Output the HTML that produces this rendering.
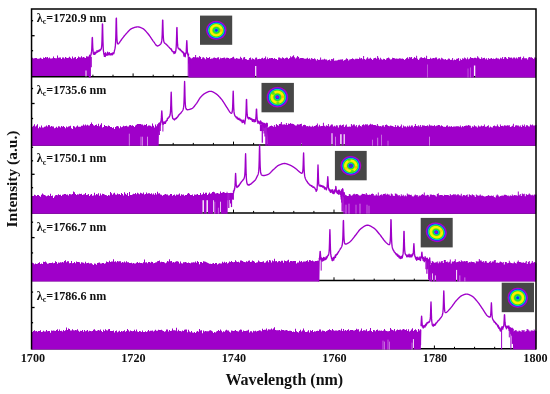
<!DOCTYPE html>
<html><head><meta charset="utf-8"><title>Spectra</title>
<style>html,body{margin:0;padding:0;background:#fff;}body{width:550px;height:394px;position:relative;overflow:hidden;font-family:"Liberation Serif",serif;}</style>
</head><body>
<svg width="550" height="394" viewBox="0 0 550 394" style="position:absolute;left:0;top:0">
<defs>
<radialGradient id="beamA" cx="0.5" cy="0.5" r="0.5"><stop offset="0" stop-color="#0828ff"/><stop offset="0.1" stop-color="#0838ff"/><stop offset="0.17" stop-color="#00c8b0"/><stop offset="0.24" stop-color="#20e030"/><stop offset="0.32" stop-color="#30e020"/><stop offset="0.41" stop-color="#d8f000"/><stop offset="0.47" stop-color="#fff000"/><stop offset="0.59" stop-color="#f4f000"/><stop offset="0.67" stop-color="#40e010"/><stop offset="0.75" stop-color="#00d0c8"/><stop offset="0.82" stop-color="#1838ff"/><stop offset="0.9" stop-color="#b000d0"/><stop offset="0.97" stop-color="#a800b8"/><stop offset="1.0" stop-color="#7a2a80"/></radialGradient>
<radialGradient id="beamB" cx="0.5" cy="0.5" r="0.5"><stop offset="0" stop-color="#d000a0"/><stop offset="0.07" stop-color="#c000c0"/><stop offset="0.15" stop-color="#2030ff"/><stop offset="0.22" stop-color="#00c8c0"/><stop offset="0.27" stop-color="#20e030"/><stop offset="0.32" stop-color="#30e020"/><stop offset="0.41" stop-color="#d8f000"/><stop offset="0.47" stop-color="#fff000"/><stop offset="0.59" stop-color="#f4f000"/><stop offset="0.67" stop-color="#40e010"/><stop offset="0.75" stop-color="#00d0c8"/><stop offset="0.82" stop-color="#1838ff"/><stop offset="0.9" stop-color="#b000d0"/><stop offset="0.97" stop-color="#a800b8"/><stop offset="1.0" stop-color="#7a2a80"/></radialGradient>
<radialGradient id="beamC" cx="0.5" cy="0.5" r="0.5"><stop offset="0" stop-color="#505060"/><stop offset="0.08" stop-color="#6a30a8"/><stop offset="0.19" stop-color="#2c34ff"/><stop offset="0.25" stop-color="#00c8c0"/><stop offset="0.29" stop-color="#20e030"/><stop offset="0.32" stop-color="#30e020"/><stop offset="0.41" stop-color="#d8f000"/><stop offset="0.47" stop-color="#fff000"/><stop offset="0.59" stop-color="#f4f000"/><stop offset="0.67" stop-color="#40e010"/><stop offset="0.75" stop-color="#00d0c8"/><stop offset="0.82" stop-color="#1838ff"/><stop offset="0.9" stop-color="#b000d0"/><stop offset="0.97" stop-color="#a800b8"/><stop offset="1.0" stop-color="#7a2a80"/></radialGradient>
<filter id="soft" x="-20%" y="-20%" width="140%" height="140%"><feGaussianBlur stdDeviation="0.35"/></filter>
</defs>
<rect width="550" height="394" fill="#fff"/>
<line x1="31.55" y1="76.7" x2="536.0" y2="76.7" stroke="#000" stroke-width="1.5"/>
<line x1="31.55" y1="144.9" x2="536.0" y2="144.9" stroke="#000" stroke-width="1.5"/>
<line x1="31.55" y1="212.9" x2="536.0" y2="212.9" stroke="#000" stroke-width="1.5"/>
<line x1="31.55" y1="280.6" x2="536.0" y2="280.6" stroke="#000" stroke-width="1.5"/>
<line x1="31.55" y1="348.8" x2="536.0" y2="348.8" stroke="#000" stroke-width="1.5"/>
<line x1="32.6" y1="76.7" x2="32.6" y2="73.4" stroke="#000" stroke-width="1"/>
<line x1="52.7" y1="76.7" x2="52.7" y2="74.7" stroke="#000" stroke-width="1"/>
<line x1="72.8" y1="76.7" x2="72.8" y2="74.7" stroke="#000" stroke-width="1"/>
<line x1="92.9" y1="76.7" x2="92.9" y2="74.7" stroke="#000" stroke-width="1"/>
<line x1="113.0" y1="76.7" x2="113.0" y2="74.7" stroke="#000" stroke-width="1"/>
<line x1="133.1" y1="76.7" x2="133.1" y2="73.4" stroke="#000" stroke-width="1"/>
<line x1="153.2" y1="76.7" x2="153.2" y2="74.7" stroke="#000" stroke-width="1"/>
<line x1="173.2" y1="76.7" x2="173.2" y2="74.7" stroke="#000" stroke-width="1"/>
<line x1="193.3" y1="76.7" x2="193.3" y2="74.7" stroke="#000" stroke-width="1"/>
<line x1="213.4" y1="76.7" x2="213.4" y2="74.7" stroke="#000" stroke-width="1"/>
<line x1="233.5" y1="76.7" x2="233.5" y2="73.4" stroke="#000" stroke-width="1"/>
<line x1="253.6" y1="76.7" x2="253.6" y2="74.7" stroke="#000" stroke-width="1"/>
<line x1="273.7" y1="76.7" x2="273.7" y2="74.7" stroke="#000" stroke-width="1"/>
<line x1="293.8" y1="76.7" x2="293.8" y2="74.7" stroke="#000" stroke-width="1"/>
<line x1="313.9" y1="76.7" x2="313.9" y2="74.7" stroke="#000" stroke-width="1"/>
<line x1="334.0" y1="76.7" x2="334.0" y2="73.4" stroke="#000" stroke-width="1"/>
<line x1="354.1" y1="76.7" x2="354.1" y2="74.7" stroke="#000" stroke-width="1"/>
<line x1="374.2" y1="76.7" x2="374.2" y2="74.7" stroke="#000" stroke-width="1"/>
<line x1="394.3" y1="76.7" x2="394.3" y2="74.7" stroke="#000" stroke-width="1"/>
<line x1="414.3" y1="76.7" x2="414.3" y2="74.7" stroke="#000" stroke-width="1"/>
<line x1="434.4" y1="76.7" x2="434.4" y2="73.4" stroke="#000" stroke-width="1"/>
<line x1="454.5" y1="76.7" x2="454.5" y2="74.7" stroke="#000" stroke-width="1"/>
<line x1="474.6" y1="76.7" x2="474.6" y2="74.7" stroke="#000" stroke-width="1"/>
<line x1="494.7" y1="76.7" x2="494.7" y2="74.7" stroke="#000" stroke-width="1"/>
<line x1="514.8" y1="76.7" x2="514.8" y2="74.7" stroke="#000" stroke-width="1"/>
<line x1="534.9" y1="76.7" x2="534.9" y2="73.4" stroke="#000" stroke-width="1"/>
<line x1="32.6" y1="144.9" x2="32.6" y2="141.6" stroke="#000" stroke-width="1"/>
<line x1="52.7" y1="144.9" x2="52.7" y2="142.9" stroke="#000" stroke-width="1"/>
<line x1="72.8" y1="144.9" x2="72.8" y2="142.9" stroke="#000" stroke-width="1"/>
<line x1="92.9" y1="144.9" x2="92.9" y2="142.9" stroke="#000" stroke-width="1"/>
<line x1="113.0" y1="144.9" x2="113.0" y2="142.9" stroke="#000" stroke-width="1"/>
<line x1="133.1" y1="144.9" x2="133.1" y2="141.6" stroke="#000" stroke-width="1"/>
<line x1="153.2" y1="144.9" x2="153.2" y2="142.9" stroke="#000" stroke-width="1"/>
<line x1="173.2" y1="144.9" x2="173.2" y2="142.9" stroke="#000" stroke-width="1"/>
<line x1="193.3" y1="144.9" x2="193.3" y2="142.9" stroke="#000" stroke-width="1"/>
<line x1="213.4" y1="144.9" x2="213.4" y2="142.9" stroke="#000" stroke-width="1"/>
<line x1="233.5" y1="144.9" x2="233.5" y2="141.6" stroke="#000" stroke-width="1"/>
<line x1="253.6" y1="144.9" x2="253.6" y2="142.9" stroke="#000" stroke-width="1"/>
<line x1="273.7" y1="144.9" x2="273.7" y2="142.9" stroke="#000" stroke-width="1"/>
<line x1="293.8" y1="144.9" x2="293.8" y2="142.9" stroke="#000" stroke-width="1"/>
<line x1="313.9" y1="144.9" x2="313.9" y2="142.9" stroke="#000" stroke-width="1"/>
<line x1="334.0" y1="144.9" x2="334.0" y2="141.6" stroke="#000" stroke-width="1"/>
<line x1="354.1" y1="144.9" x2="354.1" y2="142.9" stroke="#000" stroke-width="1"/>
<line x1="374.2" y1="144.9" x2="374.2" y2="142.9" stroke="#000" stroke-width="1"/>
<line x1="394.3" y1="144.9" x2="394.3" y2="142.9" stroke="#000" stroke-width="1"/>
<line x1="414.3" y1="144.9" x2="414.3" y2="142.9" stroke="#000" stroke-width="1"/>
<line x1="434.4" y1="144.9" x2="434.4" y2="141.6" stroke="#000" stroke-width="1"/>
<line x1="454.5" y1="144.9" x2="454.5" y2="142.9" stroke="#000" stroke-width="1"/>
<line x1="474.6" y1="144.9" x2="474.6" y2="142.9" stroke="#000" stroke-width="1"/>
<line x1="494.7" y1="144.9" x2="494.7" y2="142.9" stroke="#000" stroke-width="1"/>
<line x1="514.8" y1="144.9" x2="514.8" y2="142.9" stroke="#000" stroke-width="1"/>
<line x1="534.9" y1="144.9" x2="534.9" y2="141.6" stroke="#000" stroke-width="1"/>
<line x1="32.6" y1="212.9" x2="32.6" y2="209.6" stroke="#000" stroke-width="1"/>
<line x1="52.7" y1="212.9" x2="52.7" y2="210.9" stroke="#000" stroke-width="1"/>
<line x1="72.8" y1="212.9" x2="72.8" y2="210.9" stroke="#000" stroke-width="1"/>
<line x1="92.9" y1="212.9" x2="92.9" y2="210.9" stroke="#000" stroke-width="1"/>
<line x1="113.0" y1="212.9" x2="113.0" y2="210.9" stroke="#000" stroke-width="1"/>
<line x1="133.1" y1="212.9" x2="133.1" y2="209.6" stroke="#000" stroke-width="1"/>
<line x1="153.2" y1="212.9" x2="153.2" y2="210.9" stroke="#000" stroke-width="1"/>
<line x1="173.2" y1="212.9" x2="173.2" y2="210.9" stroke="#000" stroke-width="1"/>
<line x1="193.3" y1="212.9" x2="193.3" y2="210.9" stroke="#000" stroke-width="1"/>
<line x1="213.4" y1="212.9" x2="213.4" y2="210.9" stroke="#000" stroke-width="1"/>
<line x1="233.5" y1="212.9" x2="233.5" y2="209.6" stroke="#000" stroke-width="1"/>
<line x1="253.6" y1="212.9" x2="253.6" y2="210.9" stroke="#000" stroke-width="1"/>
<line x1="273.7" y1="212.9" x2="273.7" y2="210.9" stroke="#000" stroke-width="1"/>
<line x1="293.8" y1="212.9" x2="293.8" y2="210.9" stroke="#000" stroke-width="1"/>
<line x1="313.9" y1="212.9" x2="313.9" y2="210.9" stroke="#000" stroke-width="1"/>
<line x1="334.0" y1="212.9" x2="334.0" y2="209.6" stroke="#000" stroke-width="1"/>
<line x1="354.1" y1="212.9" x2="354.1" y2="210.9" stroke="#000" stroke-width="1"/>
<line x1="374.2" y1="212.9" x2="374.2" y2="210.9" stroke="#000" stroke-width="1"/>
<line x1="394.3" y1="212.9" x2="394.3" y2="210.9" stroke="#000" stroke-width="1"/>
<line x1="414.3" y1="212.9" x2="414.3" y2="210.9" stroke="#000" stroke-width="1"/>
<line x1="434.4" y1="212.9" x2="434.4" y2="209.6" stroke="#000" stroke-width="1"/>
<line x1="454.5" y1="212.9" x2="454.5" y2="210.9" stroke="#000" stroke-width="1"/>
<line x1="474.6" y1="212.9" x2="474.6" y2="210.9" stroke="#000" stroke-width="1"/>
<line x1="494.7" y1="212.9" x2="494.7" y2="210.9" stroke="#000" stroke-width="1"/>
<line x1="514.8" y1="212.9" x2="514.8" y2="210.9" stroke="#000" stroke-width="1"/>
<line x1="534.9" y1="212.9" x2="534.9" y2="209.6" stroke="#000" stroke-width="1"/>
<line x1="32.6" y1="280.6" x2="32.6" y2="277.3" stroke="#000" stroke-width="1"/>
<line x1="52.7" y1="280.6" x2="52.7" y2="278.6" stroke="#000" stroke-width="1"/>
<line x1="72.8" y1="280.6" x2="72.8" y2="278.6" stroke="#000" stroke-width="1"/>
<line x1="92.9" y1="280.6" x2="92.9" y2="278.6" stroke="#000" stroke-width="1"/>
<line x1="113.0" y1="280.6" x2="113.0" y2="278.6" stroke="#000" stroke-width="1"/>
<line x1="133.1" y1="280.6" x2="133.1" y2="277.3" stroke="#000" stroke-width="1"/>
<line x1="153.2" y1="280.6" x2="153.2" y2="278.6" stroke="#000" stroke-width="1"/>
<line x1="173.2" y1="280.6" x2="173.2" y2="278.6" stroke="#000" stroke-width="1"/>
<line x1="193.3" y1="280.6" x2="193.3" y2="278.6" stroke="#000" stroke-width="1"/>
<line x1="213.4" y1="280.6" x2="213.4" y2="278.6" stroke="#000" stroke-width="1"/>
<line x1="233.5" y1="280.6" x2="233.5" y2="277.3" stroke="#000" stroke-width="1"/>
<line x1="253.6" y1="280.6" x2="253.6" y2="278.6" stroke="#000" stroke-width="1"/>
<line x1="273.7" y1="280.6" x2="273.7" y2="278.6" stroke="#000" stroke-width="1"/>
<line x1="293.8" y1="280.6" x2="293.8" y2="278.6" stroke="#000" stroke-width="1"/>
<line x1="313.9" y1="280.6" x2="313.9" y2="278.6" stroke="#000" stroke-width="1"/>
<line x1="334.0" y1="280.6" x2="334.0" y2="277.3" stroke="#000" stroke-width="1"/>
<line x1="354.1" y1="280.6" x2="354.1" y2="278.6" stroke="#000" stroke-width="1"/>
<line x1="374.2" y1="280.6" x2="374.2" y2="278.6" stroke="#000" stroke-width="1"/>
<line x1="394.3" y1="280.6" x2="394.3" y2="278.6" stroke="#000" stroke-width="1"/>
<line x1="414.3" y1="280.6" x2="414.3" y2="278.6" stroke="#000" stroke-width="1"/>
<line x1="434.4" y1="280.6" x2="434.4" y2="277.3" stroke="#000" stroke-width="1"/>
<line x1="454.5" y1="280.6" x2="454.5" y2="278.6" stroke="#000" stroke-width="1"/>
<line x1="474.6" y1="280.6" x2="474.6" y2="278.6" stroke="#000" stroke-width="1"/>
<line x1="494.7" y1="280.6" x2="494.7" y2="278.6" stroke="#000" stroke-width="1"/>
<line x1="514.8" y1="280.6" x2="514.8" y2="278.6" stroke="#000" stroke-width="1"/>
<line x1="534.9" y1="280.6" x2="534.9" y2="277.3" stroke="#000" stroke-width="1"/>
<line x1="32.6" y1="348.8" x2="32.6" y2="345.5" stroke="#000" stroke-width="1"/>
<line x1="52.7" y1="348.8" x2="52.7" y2="346.8" stroke="#000" stroke-width="1"/>
<line x1="72.8" y1="348.8" x2="72.8" y2="346.8" stroke="#000" stroke-width="1"/>
<line x1="92.9" y1="348.8" x2="92.9" y2="346.8" stroke="#000" stroke-width="1"/>
<line x1="113.0" y1="348.8" x2="113.0" y2="346.8" stroke="#000" stroke-width="1"/>
<line x1="133.1" y1="348.8" x2="133.1" y2="345.5" stroke="#000" stroke-width="1"/>
<line x1="153.2" y1="348.8" x2="153.2" y2="346.8" stroke="#000" stroke-width="1"/>
<line x1="173.2" y1="348.8" x2="173.2" y2="346.8" stroke="#000" stroke-width="1"/>
<line x1="193.3" y1="348.8" x2="193.3" y2="346.8" stroke="#000" stroke-width="1"/>
<line x1="213.4" y1="348.8" x2="213.4" y2="346.8" stroke="#000" stroke-width="1"/>
<line x1="233.5" y1="348.8" x2="233.5" y2="345.5" stroke="#000" stroke-width="1"/>
<line x1="253.6" y1="348.8" x2="253.6" y2="346.8" stroke="#000" stroke-width="1"/>
<line x1="273.7" y1="348.8" x2="273.7" y2="346.8" stroke="#000" stroke-width="1"/>
<line x1="293.8" y1="348.8" x2="293.8" y2="346.8" stroke="#000" stroke-width="1"/>
<line x1="313.9" y1="348.8" x2="313.9" y2="346.8" stroke="#000" stroke-width="1"/>
<line x1="334.0" y1="348.8" x2="334.0" y2="345.5" stroke="#000" stroke-width="1"/>
<line x1="354.1" y1="348.8" x2="354.1" y2="346.8" stroke="#000" stroke-width="1"/>
<line x1="374.2" y1="348.8" x2="374.2" y2="346.8" stroke="#000" stroke-width="1"/>
<line x1="394.3" y1="348.8" x2="394.3" y2="346.8" stroke="#000" stroke-width="1"/>
<line x1="414.3" y1="348.8" x2="414.3" y2="346.8" stroke="#000" stroke-width="1"/>
<line x1="434.4" y1="348.8" x2="434.4" y2="345.5" stroke="#000" stroke-width="1"/>
<line x1="454.5" y1="348.8" x2="454.5" y2="346.8" stroke="#000" stroke-width="1"/>
<line x1="474.6" y1="348.8" x2="474.6" y2="346.8" stroke="#000" stroke-width="1"/>
<line x1="494.7" y1="348.8" x2="494.7" y2="346.8" stroke="#000" stroke-width="1"/>
<line x1="514.8" y1="348.8" x2="514.8" y2="346.8" stroke="#000" stroke-width="1"/>
<line x1="534.9" y1="348.8" x2="534.9" y2="345.5" stroke="#000" stroke-width="1"/>
<polygon points="31.6,75.9 31.1,58.1 32.0,58.1 32.0,57.7 33.0,57.7 33.0,58.5 34.0,58.5 34.0,58.3 35.0,58.3 35.0,58.1 36.0,58.1 36.0,58.0 37.0,58.0 37.0,58.8 38.0,58.8 38.0,58.7 39.0,58.7 39.0,58.5 40.0,58.5 40.0,57.8 41.0,57.8 41.0,58.4 42.0,58.4 42.0,59.0 43.0,59.0 43.0,57.4 44.0,57.4 44.0,58.1 45.0,58.1 45.0,57.0 46.0,57.0 46.0,57.5 47.0,57.5 47.0,57.1 48.0,57.1 48.0,58.3 49.0,58.3 49.0,57.5 50.0,57.5 50.0,58.6 51.0,58.6 51.0,58.5 52.0,58.5 52.0,58.2 53.0,58.2 53.0,56.5 54.0,56.5 54.0,57.9 55.0,57.9 55.0,58.2 56.0,58.2 56.0,58.3 57.0,58.3 57.0,55.5 58.0,55.5 58.0,57.8 59.0,57.8 59.0,57.4 60.0,57.4 60.0,57.5 61.0,57.5 61.0,58.9 62.0,58.9 62.0,57.4 63.0,57.4 63.0,57.5 64.0,57.5 64.0,58.6 65.0,58.6 65.0,57.0 66.0,57.0 66.0,57.8 67.0,57.8 67.0,57.9 68.0,57.9 68.0,57.8 69.0,57.8 69.0,56.8 70.0,56.8 70.0,57.7 71.0,57.7 71.0,58.7 72.0,58.7 72.0,56.4 73.0,56.4 73.0,58.2 74.0,58.2 74.0,57.6 75.0,57.6 75.0,57.0 76.0,57.0 76.0,58.9 77.0,58.9 77.0,57.9 78.0,57.9 78.0,56.4 79.0,56.4 79.0,57.3 80.0,57.3 80.0,57.6 81.0,57.6 81.0,56.2 82.0,56.2 82.0,57.6 83.0,57.6 83.0,57.0 84.0,57.0 84.0,57.5 85.0,57.5 85.0,58.0 86.0,58.0 86.0,56.3 87.0,56.3 87.0,56.5 88.0,56.5 88.0,56.4 89.0,56.4 88.9,56.8 89.9,56.8 89.4,75.9" fill="#9f00c9"/>
<polygon points="188.6,77.5 188.1,57.3 189.1,57.3 189.1,59.0 190.1,59.0 190.1,57.8 191.1,57.8 191.1,58.5 192.1,58.5 192.1,57.7 193.1,57.7 193.1,57.1 194.1,57.1 194.1,57.3 195.1,57.3 195.1,55.0 196.1,55.0 196.1,57.6 197.1,57.6 197.1,57.3 198.1,57.3 198.1,57.4 199.1,57.4 199.1,56.0 200.1,56.0 200.1,57.1 201.1,57.1 201.1,59.1 202.1,59.1 202.1,57.4 203.1,57.4 203.1,57.2 204.1,57.2 204.1,58.3 205.1,58.3 205.1,59.2 206.1,59.2 206.1,57.1 207.1,57.1 207.1,58.1 208.1,58.1 208.1,57.9 209.1,57.9 209.1,57.1 210.1,57.1 210.1,59.1 211.1,59.1 211.1,58.5 212.1,58.5 212.1,58.5 213.1,58.5 213.1,57.8 214.1,57.8 214.1,57.4 215.1,57.4 215.1,57.9 216.1,57.9 216.1,58.2 217.1,58.2 217.1,57.4 218.1,57.4 218.1,57.3 219.1,57.3 219.1,59.2 220.1,59.2 220.1,57.8 221.1,57.8 221.1,58.3 222.1,58.3 222.1,58.0 223.1,58.0 223.1,57.7 224.1,57.7 224.1,57.6 225.1,57.6 225.1,58.4 226.1,58.4 226.1,57.7 227.1,57.7 227.1,57.8 228.1,57.8 228.1,57.9 229.1,57.9 229.1,58.7 230.1,58.7 230.1,58.3 231.1,58.3 231.1,58.0 232.1,58.0 232.1,57.3 233.1,57.3 233.1,56.8 234.1,56.8 234.1,58.6 235.1,58.6 235.1,58.7 236.1,58.7 236.1,57.9 237.1,57.9 237.1,58.5 238.1,58.5 238.1,58.7 239.1,58.7 239.1,58.8 240.1,58.8 240.1,56.8 241.1,56.8 241.1,58.0 242.1,58.0 242.1,59.5 243.1,59.5 243.1,57.5 244.1,57.5 244.1,57.0 245.1,57.0 245.1,58.9 246.1,58.9 246.1,59.3 247.1,59.3 247.1,60.1 248.1,60.1 248.1,59.8 249.1,59.8 249.1,57.9 250.1,57.9 250.1,57.6 251.1,57.6 251.1,59.5 252.1,59.5 252.1,58.2 253.1,58.2 253.1,59.0 254.1,59.0 254.1,59.6 255.1,59.6 255.1,57.8 256.1,57.8 256.1,57.4 257.1,57.4 257.1,59.2 258.1,59.2 258.1,58.9 259.1,58.9 259.1,58.8 260.1,58.8 260.1,59.0 261.1,59.0 261.1,58.3 262.1,58.3 262.1,57.8 263.1,57.8 263.1,58.8 264.1,58.8 264.1,58.1 265.1,58.1 265.1,56.5 266.1,56.5 266.1,59.2 267.1,59.2 267.1,57.4 268.1,57.4 268.1,59.1 269.1,59.1 269.1,58.0 270.1,58.0 270.1,58.3 271.1,58.3 271.1,58.0 272.1,58.0 272.1,58.1 273.1,58.1 273.1,58.9 274.1,58.9 274.1,58.1 275.1,58.1 275.1,58.9 276.1,58.9 276.1,58.9 277.1,58.9 277.1,60.1 278.1,60.1 278.1,57.5 279.1,57.5 279.1,57.6 280.1,57.6 280.1,58.3 281.1,58.3 281.1,58.4 282.1,58.4 282.1,57.2 283.1,57.2 283.1,57.9 284.1,57.9 284.1,58.8 285.1,58.8 285.1,58.1 286.1,58.1 286.1,57.4 287.1,57.4 287.1,57.8 288.1,57.8 288.1,58.9 289.1,58.9 289.1,57.9 290.1,57.9 290.1,56.3 291.1,56.3 291.1,57.3 292.1,57.3 292.1,56.3 293.1,56.3 293.1,55.3 294.1,55.3 294.1,57.3 295.1,57.3 295.1,58.6 296.1,58.6 296.1,57.6 297.1,57.6 297.1,56.0 298.1,56.0 298.1,57.0 299.1,57.0 299.1,58.6 300.1,58.6 300.1,58.0 301.1,58.0 301.1,58.0 302.1,58.0 302.1,58.0 303.1,58.0 303.1,58.2 304.1,58.2 304.1,58.8 305.1,58.8 305.1,58.7 306.1,58.7 306.1,58.6 307.1,58.6 307.1,57.7 308.1,57.7 308.1,59.0 309.1,59.0 309.1,58.2 310.1,58.2 310.1,59.6 311.1,59.6 311.1,57.9 312.1,57.9 312.1,58.8 313.1,58.8 313.1,59.1 314.1,59.1 314.1,58.2 315.1,58.2 315.1,59.3 316.1,59.3 316.1,60.4 317.1,60.4 317.1,59.1 318.1,59.1 318.1,60.1 319.1,60.1 319.1,59.8 320.1,59.8 320.1,57.6 321.1,57.6 321.1,59.7 322.1,59.7 322.1,59.5 323.1,59.5 323.1,59.6 324.1,59.6 324.1,58.8 325.1,58.8 325.1,59.4 326.1,59.4 326.1,59.5 327.1,59.5 327.1,60.5 328.1,60.5 328.1,59.9 329.1,59.9 329.1,59.6 330.1,59.6 330.1,60.8 331.1,60.8 331.1,59.0 332.1,59.0 332.1,59.3 333.1,59.3 333.1,58.3 334.1,58.3 334.1,60.8 335.1,60.8 335.1,60.4 336.1,60.4 336.1,60.4 337.1,60.4 337.1,60.2 338.1,60.2 338.1,59.8 339.1,59.8 339.1,59.8 340.1,59.8 340.1,59.5 341.1,59.5 341.1,59.5 342.1,59.5 342.1,59.2 343.1,59.2 343.1,60.7 344.1,60.7 344.1,59.9 345.1,59.9 345.1,59.4 346.1,59.4 346.1,58.2 347.1,58.2 347.1,58.9 348.1,58.9 348.1,60.5 349.1,60.5 349.1,59.6 350.1,59.6 350.1,59.3 351.1,59.3 351.1,58.9 352.1,58.9 352.1,58.3 353.1,58.3 353.1,59.0 354.1,59.0 354.1,59.5 355.1,59.5 355.1,58.7 356.1,58.7 356.1,58.7 357.1,58.7 357.1,58.7 358.1,58.7 358.1,58.9 359.1,58.9 359.1,57.5 360.1,57.5 360.1,58.5 361.1,58.5 361.1,58.0 362.1,58.0 362.1,59.3 363.1,59.3 363.1,56.0 364.1,56.0 364.1,59.1 365.1,59.1 365.1,59.8 366.1,59.8 366.1,58.4 367.1,58.4 367.1,57.2 368.1,57.2 368.1,58.7 369.1,58.7 369.1,58.6 370.1,58.6 370.1,57.8 371.1,57.8 371.1,58.9 372.1,58.9 372.1,60.1 373.1,60.1 373.1,58.4 374.1,58.4 374.1,58.0 375.1,58.0 375.1,57.8 376.1,57.8 376.1,58.8 377.1,58.8 377.1,56.1 378.1,56.1 378.1,57.7 379.1,57.7 379.1,59.5 380.1,59.5 380.1,57.8 381.1,57.8 381.1,59.3 382.1,59.3 382.1,59.7 383.1,59.7 383.1,58.7 384.1,58.7 384.1,58.9 385.1,58.9 385.1,60.0 386.1,60.0 386.1,58.4 387.1,58.4 387.1,58.1 388.1,58.1 388.1,57.5 389.1,57.5 389.1,58.6 390.1,58.6 390.1,59.6 391.1,59.6 391.1,59.3 392.1,59.3 392.1,57.8 393.1,57.8 393.1,57.9 394.1,57.9 394.1,58.2 395.1,58.2 395.1,58.8 396.1,58.8 396.1,58.4 397.1,58.4 397.1,58.7 398.1,58.7 398.1,58.8 399.1,58.8 399.1,58.3 400.1,58.3 400.1,58.5 401.1,58.5 401.1,58.7 402.1,58.7 402.1,58.5 403.1,58.5 403.1,58.9 404.1,58.9 404.1,60.0 405.1,60.0 405.1,59.0 406.1,59.0 406.1,58.1 407.1,58.1 407.1,57.3 408.1,57.3 408.1,58.8 409.1,58.8 409.1,57.0 410.1,57.0 410.1,57.4 411.1,57.4 411.1,57.0 412.1,57.0 412.1,58.9 413.1,58.9 413.1,58.3 414.1,58.3 414.1,57.1 415.1,57.1 415.1,58.0 416.1,58.0 416.1,55.8 417.1,55.8 417.1,58.8 418.1,58.8 418.1,59.9 419.1,59.9 419.1,58.4 420.1,58.4 420.1,57.6 421.1,57.6 421.1,57.3 422.1,57.3 422.1,58.1 423.1,58.1 423.1,58.0 424.1,58.0 424.1,57.2 425.1,57.2 425.1,58.2 426.1,58.2 426.1,55.8 427.1,55.8 427.1,58.9 428.1,58.9 428.1,58.9 429.1,58.9 429.1,59.0 430.1,59.0 430.1,57.7 431.1,57.7 431.1,58.7 432.1,58.7 432.1,58.3 433.1,58.3 433.1,58.1 434.1,58.1 434.1,58.2 435.1,58.2 435.1,57.6 436.1,57.6 436.1,57.5 437.1,57.5 437.1,59.3 438.1,59.3 438.1,58.6 439.1,58.6 439.1,58.3 440.1,58.3 440.1,59.6 441.1,59.6 441.1,57.7 442.1,57.7 442.1,58.4 443.1,58.4 443.1,59.2 444.1,59.2 444.1,59.5 445.1,59.5 445.1,58.9 446.1,58.9 446.1,60.0 447.1,60.0 447.1,59.5 448.1,59.5 448.1,58.5 449.1,58.5 449.1,58.7 450.1,58.7 450.1,60.0 451.1,60.0 451.1,59.7 452.1,59.7 452.1,57.9 453.1,57.9 453.1,60.2 454.1,60.2 454.1,59.6 455.1,59.6 455.1,60.1 456.1,60.1 456.1,58.8 457.1,58.8 457.1,58.8 458.1,58.8 458.1,58.1 459.1,58.1 459.1,60.8 460.1,60.8 460.1,58.7 461.1,58.7 461.1,60.0 462.1,60.0 462.1,58.3 463.1,58.3 463.1,58.8 464.1,58.8 464.1,57.4 465.1,57.4 465.1,58.3 466.1,58.3 466.1,59.3 467.1,59.3 467.1,57.6 468.1,57.6 468.1,59.2 469.1,59.2 469.1,58.6 470.1,58.6 470.1,57.1 471.1,57.1 471.1,57.9 472.1,57.9 472.1,58.0 473.1,58.0 473.1,58.3 474.1,58.3 474.1,57.7 475.1,57.7 475.1,57.8 476.1,57.8 476.1,58.2 477.1,58.2 477.1,56.3 478.1,56.3 478.1,57.5 479.1,57.5 479.1,58.4 480.1,58.4 480.1,59.1 481.1,59.1 481.1,57.3 482.1,57.3 482.1,58.5 483.1,58.5 483.1,58.0 484.1,58.0 484.1,57.8 485.1,57.8 485.1,59.2 486.1,59.2 486.1,58.2 487.1,58.2 487.1,59.7 488.1,59.7 488.1,58.0 489.1,58.0 489.1,58.9 490.1,58.9 490.1,58.5 491.1,58.5 491.1,58.1 492.1,58.1 492.1,59.1 493.1,59.1 493.1,58.5 494.1,58.5 494.1,59.1 495.1,59.1 495.1,58.6 496.1,58.6 496.1,57.8 497.1,57.8 497.1,58.5 498.1,58.5 498.1,58.6 499.1,58.6 499.1,59.2 500.1,59.2 500.1,57.8 501.1,57.8 501.1,58.4 502.1,58.4 502.1,57.1 503.1,57.1 503.1,58.9 504.1,58.9 504.1,57.3 505.1,57.3 505.1,57.0 506.1,57.0 506.1,58.3 507.1,58.3 507.1,59.1 508.1,59.1 508.1,57.1 509.1,57.1 509.1,57.4 510.1,57.4 510.1,57.7 511.1,57.7 511.1,57.4 512.1,57.4 512.1,58.5 513.1,58.5 513.1,57.6 514.1,57.6 514.1,57.6 515.1,57.6 515.1,58.6 516.1,58.6 516.1,57.6 517.1,57.6 517.1,58.5 518.1,58.5 518.1,57.1 519.1,57.1 519.1,57.3 520.1,57.3 520.1,56.8 521.1,56.8 521.1,59.6 522.1,59.6 522.1,57.9 523.1,57.9 523.1,56.4 524.1,56.4 524.1,58.2 525.1,58.2 525.1,58.3 526.1,58.3 526.1,58.2 527.1,58.2 527.1,59.6 528.1,59.6 528.1,57.4 529.1,57.4 529.1,57.1 530.1,57.1 530.1,57.5 531.1,57.5 531.1,57.2 532.1,57.2 532.1,58.1 533.1,58.1 533.1,58.9 534.1,58.9 534.1,57.5 535.1,57.5 535.1,57.2 536.1,57.2 535.5,58.0 536.5,58.0 536.0,77.5" fill="#9f00c9"/>
<rect x="85.50" y="70.5" width="1.0" height="7.0" fill="#fff" opacity="0.95"/>
<rect x="85.50" y="75.95" width="1.0" height="1.5" fill="#000"/>
<rect x="255.10" y="66.0" width="1.2" height="11.5" fill="#fff" opacity="0.95"/>
<rect x="255.10" y="75.95" width="1.2" height="1.5" fill="#000"/>
<rect x="427.10" y="64.5" width="0.4" height="13.0" fill="#fff" opacity="0.8"/>
<rect x="467.80" y="68.5" width="0.4" height="9.0" fill="#fff" opacity="0.8"/>
<rect x="470.10" y="67.5" width="0.4" height="10.0" fill="#fff" opacity="0.8"/>
<rect x="473.90" y="65.5" width="1.4" height="12.0" fill="#fff" opacity="0.95"/>
<rect x="473.90" y="75.95" width="1.4" height="1.5" fill="#000"/>
<line x1="89.4" y1="56.8" x2="89.4" y2="77.5" stroke="#9f00c9" stroke-width="1.25"/>
<line x1="90.3" y1="56.8" x2="90.3" y2="77.5" stroke="#9f00c9" stroke-width="1.25"/>
<line x1="91.2" y1="56.8" x2="91.2" y2="67.3" stroke="#9f00c9" stroke-width="1.25"/>
<line x1="188.6" y1="56.8" x2="188.6" y2="63.5" stroke="#9f00c9" stroke-width="1.25"/>
<line x1="189.5" y1="56.8" x2="189.5" y2="72.8" stroke="#9f00c9" stroke-width="1.25"/>
<line x1="188.2" y1="56.9" x2="188.2" y2="76.5" stroke="#9f00c9" stroke-width="1.0"/>
<path d="M89.40,59.01 L89.60,55.27 L89.80,56.22 L90.00,56.79 L90.20,56.96 L90.40,55.33 L90.60,55.94 L90.80,54.96 L91.00,54.91 L91.20,54.00 L91.40,52.29 L91.60,51.38 L91.80,48.62 L92.00,43.45 L92.20,37.72 L92.40,37.56 L92.60,42.97 L92.80,47.69 L93.00,49.93 L93.20,52.30 L93.40,53.89 L93.60,54.26 L93.80,52.98 L94.00,53.79 L94.20,53.39 L94.40,53.37 L94.60,54.37 L94.80,52.24 L95.00,53.84 L95.20,52.96 L95.40,53.83 L95.60,52.89 L95.80,52.22 L96.00,52.69 L96.20,52.83 L96.40,52.28 L96.60,52.40 L96.80,51.71 L97.00,50.73 L97.20,52.20 L97.40,51.96 L97.60,51.55 L97.80,51.39 L98.00,51.71 L98.20,50.92 L98.40,50.71 L98.60,50.83 L98.80,51.28 L99.00,50.15 L99.20,51.05 L99.40,50.25 L99.60,49.99 L99.80,50.73 L100.00,50.13 L100.20,49.60 L100.40,49.75 L100.60,49.95 L100.80,49.80 L101.00,49.10 L101.20,48.91 L101.40,48.28 L101.60,46.87 L101.80,44.70 L102.00,40.40 L102.20,32.73 L102.40,23.83 L102.60,24.23 L102.80,33.91 L103.00,42.32 L103.20,47.25 L103.40,50.56 L103.60,52.03 L103.80,53.60 L104.00,54.60 L104.20,54.57 L104.40,56.37 L104.60,53.74 L104.80,55.38 L105.00,54.37 L105.20,56.48 L105.40,56.33 L105.60,52.80 L105.80,53.72 L106.00,55.22 L106.20,55.28 L106.40,55.16 L106.60,54.36 L106.80,54.78 L107.00,54.89 L107.20,54.19 L107.40,55.12 L107.60,52.21 L107.80,54.70 L108.00,53.24 L108.20,54.95 L108.40,53.92 L108.60,53.34 L108.80,54.42 L109.00,53.31 L109.20,53.30 L109.40,52.74 L109.60,54.05 L109.80,54.49 L110.00,54.93 L110.20,53.93 L110.40,54.94 L110.60,54.05 L110.80,53.95 L111.00,54.50 L111.20,54.90 L111.40,53.71 L111.60,53.77 L111.80,53.82 L112.00,54.01 L112.20,53.17 L112.40,54.73 L112.60,53.52 L112.80,54.18 L113.00,53.05 L113.20,53.78 L113.40,53.49 L113.60,52.57 L113.80,53.63 L114.00,52.12 L114.20,52.21 L114.40,51.16 L114.60,49.87 L114.80,49.22 L115.00,48.44 L115.20,47.05 L115.40,45.13 L115.60,42.10 L115.80,36.95 L116.00,28.34 L116.20,18.46 L116.40,18.09 L116.60,27.23 L116.80,35.11 L117.00,39.52 L117.20,41.83 L117.40,43.02 L117.60,43.62 L117.80,43.90 L118.00,43.96 L118.20,43.93 L118.40,43.84 L118.60,43.62 L118.80,43.41 L119.00,43.14 L119.20,42.88 L119.40,42.59 L119.60,42.30 L119.80,42.01 L120.00,41.71 L120.20,41.41 L120.40,41.12 L120.60,40.83 L120.80,40.55 L121.00,40.27 L121.20,40.00 L121.40,39.73 L121.60,39.45 L121.80,39.18 L122.00,38.91 L122.20,38.64 L122.40,38.37 L122.60,38.10 L122.80,37.84 L123.00,37.57 L123.20,37.31 L123.40,37.05 L123.60,36.80 L123.80,36.54 L124.00,36.29 L124.20,36.04 L124.40,35.79 L124.60,35.55 L124.80,35.31 L125.00,35.07 L125.20,34.83 L125.40,34.60 L125.60,34.37 L125.80,34.15 L126.00,33.93 L126.20,33.71 L126.40,33.49 L126.60,33.28 L126.80,33.06 L127.00,32.84 L127.20,32.62 L127.40,32.39 L127.60,32.17 L127.80,31.95 L128.00,31.73 L128.20,31.51 L128.40,31.29 L128.60,31.07 L128.80,30.86 L129.00,30.65 L129.20,30.45 L129.40,30.25 L129.60,30.06 L129.80,29.87 L130.00,29.69 L130.20,29.52 L130.40,29.36 L130.60,29.21 L130.80,29.06 L131.00,28.93 L131.20,28.80 L131.40,28.69 L131.60,28.59 L131.80,28.50 L132.00,28.41 L132.20,28.33 L132.40,28.25 L132.60,28.17 L132.80,28.09 L133.00,28.01 L133.20,27.94 L133.40,27.86 L133.60,27.79 L133.80,27.71 L134.00,27.64 L134.20,27.58 L134.40,27.51 L134.60,27.45 L134.80,27.39 L135.00,27.33 L135.20,27.27 L135.40,27.22 L135.60,27.17 L135.80,27.13 L136.00,27.09 L136.20,27.05 L136.40,27.02 L136.60,26.99 L136.80,26.96 L137.00,26.94 L137.20,26.92 L137.40,26.91 L137.60,26.90 L137.80,26.90 L138.00,26.90 L138.20,26.91 L138.40,26.93 L138.60,26.96 L138.80,26.99 L139.00,27.03 L139.20,27.07 L139.40,27.13 L139.60,27.18 L139.80,27.24 L140.00,27.31 L140.20,27.38 L140.40,27.45 L140.60,27.53 L140.80,27.61 L141.00,27.70 L141.20,27.78 L141.40,27.87 L141.60,27.97 L141.80,28.06 L142.00,28.16 L142.20,28.25 L142.40,28.35 L142.60,28.45 L142.80,28.55 L143.00,28.66 L143.20,28.78 L143.40,28.91 L143.60,29.06 L143.80,29.21 L144.00,29.37 L144.20,29.54 L144.40,29.72 L144.60,29.91 L144.80,30.11 L145.00,30.31 L145.20,30.52 L145.40,30.73 L145.60,30.95 L145.80,31.17 L146.00,31.40 L146.20,31.63 L146.40,31.86 L146.60,32.09 L146.80,32.33 L147.00,32.57 L147.20,32.81 L147.40,33.05 L147.60,33.29 L147.80,33.53 L148.00,33.76 L148.20,34.00 L148.40,34.24 L148.60,34.48 L148.80,34.74 L149.00,35.00 L149.20,35.27 L149.40,35.54 L149.60,35.83 L149.80,36.11 L150.00,36.40 L150.20,36.69 L150.40,36.99 L150.60,37.29 L150.80,37.59 L151.00,37.89 L151.20,38.19 L151.40,38.49 L151.60,38.79 L151.80,39.09 L152.00,39.38 L152.20,39.68 L152.40,39.97 L152.60,40.25 L152.80,40.53 L153.00,40.81 L153.20,41.07 L153.40,41.34 L153.60,41.59 L153.80,41.85 L154.00,42.12 L154.20,42.40 L154.40,42.70 L154.60,43.00 L154.80,43.31 L155.00,43.60 L155.20,43.89 L155.40,44.16 L155.60,44.47 L155.80,44.71 L156.00,44.99 L156.20,45.27 L156.40,45.40 L156.60,45.49 L156.80,45.67 L157.00,45.74 L157.20,45.83 L157.40,46.04 L157.60,45.96 L157.80,45.81 L158.00,45.90 L158.20,45.87 L158.40,45.68 L158.60,45.55 L158.80,45.46 L159.00,45.36 L159.20,45.23 L159.40,45.11 L159.60,44.95 L159.80,44.79 L160.00,44.63 L160.20,44.44 L160.40,44.21 L160.60,44.04 L160.80,43.82 L161.00,43.52 L161.20,43.13 L161.40,42.56 L161.60,41.73 L161.80,40.43 L162.00,38.26 L162.20,34.41 L162.40,27.82 L162.60,20.23 L162.80,20.18 L163.00,27.68 L163.20,34.17 L163.40,37.93 L163.60,40.02 L163.80,41.24 L164.00,41.99 L164.20,42.47 L164.40,42.80 L164.60,43.06 L164.80,43.23 L165.00,43.39 L165.20,43.55 L165.40,43.70 L165.60,43.84 L165.80,44.02 L166.00,44.15 L166.20,44.31 L166.40,44.51 L166.60,44.71 L166.80,44.85 L167.00,45.08 L167.20,45.26 L167.40,45.62 L167.60,45.64 L167.80,45.99 L168.00,46.11 L168.20,46.32 L168.40,46.61 L168.60,46.86 L168.80,47.12 L169.00,47.23 L169.20,47.32 L169.40,47.52 L169.60,47.87 L169.80,48.08 L170.00,48.41 L170.20,48.42 L170.40,48.76 L170.60,49.09 L170.80,49.01 L171.00,48.82 L171.20,49.11 L171.40,49.25 L171.60,50.44 L171.80,49.89 L172.00,50.89 L172.20,50.91 L172.40,51.65 L172.60,51.62 L172.80,51.36 L173.00,51.53 L173.20,51.89 L173.40,52.14 L173.60,51.92 L173.80,52.37 L174.00,53.53 L174.20,51.56 L174.40,52.88 L174.60,52.16 L174.80,52.85 L175.00,53.17 L175.20,52.42 L175.40,52.57 L175.60,50.82 L175.80,51.20 L176.00,49.18 L176.20,47.05 L176.40,42.86 L176.60,35.91 L176.80,27.90 L177.00,27.56 L177.20,34.88 L177.40,41.18 L177.60,44.70 L177.80,46.39 L178.00,47.67 L178.20,48.29 L178.40,48.27 L178.60,48.39 L178.80,48.22 L179.00,48.88 L179.20,49.45 L179.40,49.14 L179.60,49.43 L179.80,49.40 L180.00,49.15 L180.20,49.99 L180.40,49.41 L180.60,49.93 L180.80,50.31 L181.00,50.77 L181.20,50.85 L181.40,51.10 L181.60,50.85 L181.80,50.84 L182.00,51.76 L182.20,51.62 L182.40,51.52 L182.60,51.77 L182.80,52.52 L183.00,51.81 L183.20,52.38 L183.40,52.36 L183.60,54.05 L183.80,54.49 L184.00,56.17 L184.20,53.15 L184.40,54.08 L184.60,55.79 L184.80,54.77 L185.00,54.70 L185.20,56.77 L185.40,54.56 L185.60,53.53 L185.80,52.97 L186.00,53.42 L186.20,51.64 L186.40,48.11 L186.60,43.59 L186.80,40.59 L187.00,43.73 L187.20,48.49 L187.40,52.21 L187.60,54.16 L187.80,53.03 L188.00,55.10 L188.20,56.39 L188.40,55.49 L188.60,53.65" stroke="#9f00c9" stroke-width="1.35" fill="none" stroke-linejoin="round"/>
<rect x="200" y="15.6" width="32.2" height="29.2" fill="#474747"/>
<g filter="url(#soft)"><ellipse cx="216.3" cy="30.3" rx="10.4" ry="9.7" fill="url(#beamA)" transform="rotate(0 216.3 30.3)"/>
<circle cx="220.9" cy="30.3" r="1.5" fill="#ff9800" opacity="0.6"/>
</g>
<polygon points="31.6,145.7 31.1,126.9 32.0,126.9 32.0,126.7 33.0,126.7 33.0,125.7 34.0,125.7 34.0,124.3 35.0,124.3 35.0,126.6 36.0,126.6 36.0,125.6 37.0,125.6 37.0,124.3 38.0,124.3 38.0,128.3 39.0,128.3 39.0,126.8 40.0,126.8 40.0,127.6 41.0,127.6 41.0,125.6 42.0,125.6 42.0,127.4 43.0,127.4 43.0,127.6 44.0,127.6 44.0,126.7 45.0,126.7 45.0,126.4 46.0,126.4 46.0,125.6 47.0,125.6 47.0,126.4 48.0,126.4 48.0,124.9 49.0,124.9 49.0,125.3 50.0,125.3 50.0,126.7 51.0,126.7 51.0,125.9 52.0,125.9 52.0,126.5 53.0,126.5 53.0,126.6 54.0,126.6 54.0,128.2 55.0,128.2 55.0,127.7 56.0,127.7 56.0,126.7 57.0,126.7 57.0,127.7 58.0,127.7 58.0,126.2 59.0,126.2 59.0,126.6 60.0,126.6 60.0,127.5 61.0,127.5 61.0,125.9 62.0,125.9 62.0,126.7 63.0,126.7 63.0,125.9 64.0,125.9 64.0,127.0 65.0,127.0 65.0,128.2 66.0,128.2 66.0,126.4 67.0,126.4 67.0,127.2 68.0,127.2 68.0,126.4 69.0,126.4 69.0,126.2 70.0,126.2 70.0,125.8 71.0,125.8 71.0,128.2 72.0,128.2 72.0,128.9 73.0,128.9 73.0,126.1 74.0,126.1 74.0,126.6 75.0,126.6 75.0,127.5 76.0,127.5 76.0,126.6 77.0,126.6 77.0,125.6 78.0,125.6 78.0,126.8 79.0,126.8 79.0,126.7 80.0,126.7 80.0,126.8 81.0,126.8 81.0,125.8 82.0,125.8 82.0,125.8 83.0,125.8 83.0,124.6 84.0,124.6 84.0,125.5 85.0,125.5 85.0,124.6 86.0,124.6 86.0,125.4 87.0,125.4 87.0,124.7 88.0,124.7 88.0,125.4 89.0,125.4 89.0,125.5 90.0,125.5 90.0,124.0 91.0,124.0 91.0,122.6 92.0,122.6 92.0,124.1 93.0,124.1 93.0,125.2 94.0,125.2 94.0,125.8 95.0,125.8 95.0,125.1 96.0,125.1 96.0,124.4 97.0,124.4 97.0,125.9 98.0,125.9 98.0,123.8 99.0,123.8 99.0,126.2 100.0,126.2 100.0,124.8 101.0,124.8 101.0,123.3 102.0,123.3 102.0,127.6 103.0,127.6 103.0,126.9 104.0,126.9 104.0,125.1 105.0,125.1 105.0,126.1 106.0,126.1 106.0,126.0 107.0,126.0 107.0,126.4 108.0,126.4 108.0,125.4 109.0,125.4 109.0,126.1 110.0,126.1 110.0,127.1 111.0,127.1 111.0,127.1 112.0,127.1 112.0,128.0 113.0,128.0 113.0,127.3 114.0,127.3 114.0,129.1 115.0,129.1 115.0,127.0 116.0,127.0 116.0,126.3 117.0,126.3 117.0,126.0 118.0,126.0 118.0,126.4 119.0,126.4 119.0,128.2 120.0,128.2 120.0,126.3 121.0,126.3 121.0,127.3 122.0,127.3 122.0,126.7 123.0,126.7 123.0,125.8 124.0,125.8 124.0,126.2 125.0,126.2 125.0,125.9 126.0,125.9 126.0,125.8 127.0,125.8 127.0,126.6 128.0,126.6 128.0,126.4 129.0,126.4 129.0,125.3 130.0,125.3 130.0,125.0 131.0,125.0 131.0,125.7 132.0,125.7 132.0,125.3 133.0,125.3 133.0,126.0 134.0,126.0 134.0,127.1 135.0,127.1 135.0,125.6 136.0,125.6 136.0,124.7 137.0,124.7 137.0,124.0 138.0,124.0 138.0,124.1 139.0,124.1 139.0,124.1 140.0,124.1 140.0,124.0 141.0,124.0 141.0,124.5 142.0,124.5 142.0,124.6 143.0,124.6 143.0,125.5 144.0,125.5 144.0,124.7 145.0,124.7 145.0,124.9 146.0,124.9 146.0,124.1 147.0,124.1 147.0,126.3 148.0,126.3 148.0,125.5 149.0,125.5 149.0,125.4 150.0,125.4 150.0,125.8 151.0,125.8 151.0,126.4 152.0,126.4 152.0,123.5 153.0,123.5 153.0,125.8 154.0,125.8 154.0,127.4 155.0,127.4 155.0,124.5 156.0,124.5 156.0,126.3 157.0,126.3 157.0,125.9 158.0,125.9 158.0,125.8 159.0,125.8 158.1,126.0 159.1,126.0 158.6,145.7" fill="#9f00c9"/>
<polygon points="267.4,145.7 266.9,127.6 267.9,127.6 267.9,127.2 268.9,127.2 268.9,126.5 269.9,126.5 269.9,126.0 270.9,126.0 270.9,125.6 271.9,125.6 271.9,126.0 272.9,126.0 272.9,126.7 273.9,126.7 273.9,124.9 274.9,124.9 274.9,126.7 275.9,126.7 275.9,123.9 276.9,123.9 276.9,125.0 277.9,125.0 277.9,125.8 278.9,125.8 278.9,124.0 279.9,124.0 279.9,123.7 280.9,123.7 280.9,122.1 281.9,122.1 281.9,124.5 282.9,124.5 282.9,124.5 283.9,124.5 283.9,124.3 284.9,124.3 284.9,124.7 285.9,124.7 285.9,123.0 286.9,123.0 286.9,124.9 287.9,124.9 287.9,123.4 288.9,123.4 288.9,124.1 289.9,124.1 289.9,123.0 290.9,123.0 290.9,123.8 291.9,123.8 291.9,123.7 292.9,123.7 292.9,124.0 293.9,124.0 293.9,124.8 294.9,124.8 294.9,125.4 295.9,125.4 295.9,125.4 296.9,125.4 296.9,124.3 297.9,124.3 297.9,124.5 298.9,124.5 298.9,124.5 299.9,124.5 299.9,124.0 300.9,124.0 300.9,123.7 301.9,123.7 301.9,126.2 302.9,126.2 302.9,125.0 303.9,125.0 303.9,124.8 304.9,124.8 304.9,125.1 305.9,125.1 305.9,126.3 306.9,126.3 306.9,125.9 307.9,125.9 307.9,126.5 308.9,126.5 308.9,125.8 309.9,125.8 309.9,126.6 310.9,126.6 310.9,126.7 311.9,126.7 311.9,125.7 312.9,125.7 312.9,126.8 313.9,126.8 313.9,125.9 314.9,125.9 314.9,125.8 315.9,125.8 315.9,125.1 316.9,125.1 316.9,123.5 317.9,123.5 317.9,126.4 318.9,126.4 318.9,124.8 319.9,124.8 319.9,126.3 320.9,126.3 320.9,126.1 321.9,126.1 321.9,126.1 322.9,126.1 322.9,122.8 323.9,122.8 323.9,125.8 324.9,125.8 324.9,126.4 325.9,126.4 325.9,125.3 326.9,125.3 326.9,126.0 327.9,126.0 327.9,124.1 328.9,124.1 328.9,126.4 329.9,126.4 329.9,125.4 330.9,125.4 330.9,124.6 331.9,124.6 331.9,124.5 332.9,124.5 332.9,126.4 333.9,126.4 333.9,125.7 334.9,125.7 334.9,126.5 335.9,126.5 335.9,125.2 336.9,125.2 336.9,125.5 337.9,125.5 337.9,127.6 338.9,127.6 338.9,125.3 339.9,125.3 339.9,124.7 340.9,124.7 340.9,125.7 341.9,125.7 341.9,125.1 342.9,125.1 342.9,124.6 343.9,124.6 343.9,127.0 344.9,127.0 344.9,125.4 345.9,125.4 345.9,124.6 346.9,124.6 346.9,126.8 347.9,126.8 347.9,126.7 348.9,126.7 348.9,126.5 349.9,126.5 349.9,126.7 350.9,126.7 350.9,124.0 351.9,124.0 351.9,125.6 352.9,125.6 352.9,124.4 353.9,124.4 353.9,124.6 354.9,124.6 354.9,126.3 355.9,126.3 355.9,125.0 356.9,125.0 356.9,127.2 357.9,127.2 357.9,125.4 358.9,125.4 358.9,124.8 359.9,124.8 359.9,125.9 360.9,125.9 360.9,126.6 361.9,126.6 361.9,125.1 362.9,125.1 362.9,124.2 363.9,124.2 363.9,125.3 364.9,125.3 364.9,124.3 365.9,124.3 365.9,124.4 366.9,124.4 366.9,124.2 367.9,124.2 367.9,125.5 368.9,125.5 368.9,124.8 369.9,124.8 369.9,123.8 370.9,123.8 370.9,124.4 371.9,124.4 371.9,124.2 372.9,124.2 372.9,125.1 373.9,125.1 373.9,125.1 374.9,125.1 374.9,125.1 375.9,125.1 375.9,125.7 376.9,125.7 376.9,124.1 377.9,124.1 377.9,125.7 378.9,125.7 378.9,126.2 379.9,126.2 379.9,126.0 380.9,126.0 380.9,126.5 381.9,126.5 381.9,125.4 382.9,125.4 382.9,125.2 383.9,125.2 383.9,126.7 384.9,126.7 384.9,124.9 385.9,124.9 385.9,124.6 386.9,124.6 386.9,125.3 387.9,125.3 387.9,125.9 388.9,125.9 388.9,126.3 389.9,126.3 389.9,125.4 390.9,125.4 390.9,125.8 391.9,125.8 391.9,125.9 392.9,125.9 392.9,126.4 393.9,126.4 393.9,126.9 394.9,126.9 394.9,124.9 395.9,124.9 395.9,127.1 396.9,127.1 396.9,125.6 397.9,125.6 397.9,125.7 398.9,125.7 398.9,126.9 399.9,126.9 399.9,126.3 400.9,126.3 400.9,124.5 401.9,124.5 401.9,127.7 402.9,127.7 402.9,125.6 403.9,125.6 403.9,126.4 404.9,126.4 404.9,126.3 405.9,126.3 405.9,127.2 406.9,127.2 406.9,125.8 407.9,125.8 407.9,126.8 408.9,126.8 408.9,125.5 409.9,125.5 409.9,126.8 410.9,126.8 410.9,125.4 411.9,125.4 411.9,125.6 412.9,125.6 412.9,127.3 413.9,127.3 413.9,126.1 414.9,126.1 414.9,124.1 415.9,124.1 415.9,126.1 416.9,126.1 416.9,126.2 417.9,126.2 417.9,125.3 418.9,125.3 418.9,126.4 419.9,126.4 419.9,125.0 420.9,125.0 420.9,126.7 421.9,126.7 421.9,125.3 422.9,125.3 422.9,125.5 423.9,125.5 423.9,125.4 424.9,125.4 424.9,126.0 425.9,126.0 425.9,125.9 426.9,125.9 426.9,125.2 427.9,125.2 427.9,126.3 428.9,126.3 428.9,124.4 429.9,124.4 429.9,125.6 430.9,125.6 430.9,125.6 431.9,125.6 431.9,125.7 432.9,125.7 432.9,126.1 433.9,126.1 433.9,125.0 434.9,125.0 434.9,126.3 435.9,126.3 435.9,125.8 436.9,125.8 436.9,125.4 437.9,125.4 437.9,124.9 438.9,124.9 438.9,125.0 439.9,125.0 439.9,126.2 440.9,126.2 440.9,125.2 441.9,125.2 441.9,126.0 442.9,126.0 442.9,126.7 443.9,126.7 443.9,126.7 444.9,126.7 444.9,127.1 445.9,127.1 445.9,125.7 446.9,125.7 446.9,125.2 447.9,125.2 447.9,126.7 448.9,126.7 448.9,126.2 449.9,126.2 449.9,126.8 450.9,126.8 450.9,126.0 451.9,126.0 451.9,126.9 452.9,126.9 452.9,126.6 453.9,126.6 453.9,126.6 454.9,126.6 454.9,126.4 455.9,126.4 455.9,126.3 456.9,126.3 456.9,126.2 457.9,126.2 457.9,126.2 458.9,126.2 458.9,126.8 459.9,126.8 459.9,125.6 460.9,125.6 460.9,127.3 461.9,127.3 461.9,125.9 462.9,125.9 462.9,126.8 463.9,126.8 463.9,126.0 464.9,126.0 464.9,125.8 465.9,125.8 465.9,125.4 466.9,125.4 466.9,125.7 467.9,125.7 467.9,125.1 468.9,125.1 468.9,125.5 469.9,125.5 469.9,125.8 470.9,125.8 470.9,127.7 471.9,127.7 471.9,126.2 472.9,126.2 472.9,126.7 473.9,126.7 473.9,125.3 474.9,125.3 474.9,126.3 475.9,126.3 475.9,126.6 476.9,126.6 476.9,127.5 477.9,127.5 477.9,125.6 478.9,125.6 478.9,126.6 479.9,126.6 479.9,126.4 480.9,126.4 480.9,125.4 481.9,125.4 481.9,126.2 482.9,126.2 482.9,126.0 483.9,126.0 483.9,124.5 484.9,124.5 484.9,126.7 485.9,126.7 485.9,126.7 486.9,126.7 486.9,126.0 487.9,126.0 487.9,125.3 488.9,125.3 488.9,127.5 489.9,127.5 489.9,126.6 490.9,126.6 490.9,127.2 491.9,127.2 491.9,127.5 492.9,127.5 492.9,126.1 493.9,126.1 493.9,125.6 494.9,125.6 494.9,126.3 495.9,126.3 495.9,126.3 496.9,126.3 496.9,124.6 497.9,124.6 497.9,126.3 498.9,126.3 498.9,127.1 499.9,127.1 499.9,124.6 500.9,124.6 500.9,126.0 501.9,126.0 501.9,125.8 502.9,125.8 502.9,126.2 503.9,126.2 503.9,125.3 504.9,125.3 504.9,125.5 505.9,125.5 505.9,125.8 506.9,125.8 506.9,125.3 507.9,125.3 507.9,125.6 508.9,125.6 508.9,125.2 509.9,125.2 509.9,127.1 510.9,127.1 510.9,126.5 511.9,126.5 511.9,125.8 512.9,125.8 512.9,123.8 513.9,123.8 513.9,127.0 514.9,127.0 514.9,125.6 515.9,125.6 515.9,125.3 516.9,125.3 516.9,125.6 517.9,125.6 517.9,125.6 518.9,125.6 518.9,126.4 519.9,126.4 519.9,125.4 520.9,125.4 520.9,127.0 521.9,127.0 521.9,124.7 522.9,124.7 522.9,125.9 523.9,125.9 523.9,124.5 524.9,124.5 524.9,126.8 525.9,126.8 525.9,125.2 526.9,125.2 526.9,125.2 527.9,125.2 527.9,126.2 528.9,126.2 528.9,126.4 529.9,126.4 529.9,124.6 530.9,124.6 530.9,125.2 531.9,125.2 531.9,124.5 532.9,124.5 532.9,125.6 533.9,125.6 533.9,125.5 534.9,125.5 534.9,125.3 535.9,125.3 535.5,125.0 536.5,125.0 536.0,145.7" fill="#9f00c9"/>
<rect x="128.90" y="133.7" width="0.6" height="12.0" fill="#fff" opacity="0.8"/>
<rect x="140.70" y="136.7" width="0.6" height="9.0" fill="#fff" opacity="0.8"/>
<rect x="142.40" y="136.7" width="0.6" height="9.0" fill="#fff" opacity="0.8"/>
<rect x="147.05" y="136.7" width="0.7" height="9.0" fill="#fff" opacity="0.8"/>
<rect x="331.45" y="133.2" width="1.1" height="12.5" fill="#fff" opacity="0.95"/>
<rect x="331.45" y="144.15" width="1.1" height="1.5" fill="#000"/>
<rect x="335.00" y="136.7" width="0.6" height="9.0" fill="#fff" opacity="0.8"/>
<rect x="340.20" y="134.2" width="1.4" height="11.5" fill="#fff" opacity="0.95"/>
<rect x="340.20" y="144.15" width="1.4" height="1.5" fill="#000"/>
<rect x="343.60" y="134.2" width="1.2" height="11.5" fill="#fff" opacity="0.95"/>
<rect x="343.60" y="144.15" width="1.2" height="1.5" fill="#000"/>
<rect x="372.45" y="139.7" width="0.5" height="6.0" fill="#fff" opacity="0.8"/>
<rect x="377.50" y="137.7" width="0.6" height="8.0" fill="#fff" opacity="0.8"/>
<rect x="381.35" y="134.7" width="0.5" height="11.0" fill="#fff" opacity="0.8"/>
<rect x="387.75" y="140.7" width="0.5" height="5.0" fill="#fff" opacity="0.8"/>
<rect x="301.10" y="143.5" width="0.8" height="2.2" fill="#fff" opacity="0.95"/>
<rect x="301.10" y="144.15" width="0.8" height="1.5" fill="#000"/>
<rect x="429.20" y="136.7" width="0.6" height="9.0" fill="#fff" opacity="0.8"/>
<line x1="157.5" y1="124.3" x2="157.5" y2="145.1" stroke="#9f00c9" stroke-width="1.25"/>
<line x1="158.4" y1="124.3" x2="158.4" y2="131.9" stroke="#9f00c9" stroke-width="1.25"/>
<line x1="159.3" y1="124.3" x2="159.3" y2="134.9" stroke="#9f00c9" stroke-width="1.25"/>
<line x1="160.2" y1="124.3" x2="160.2" y2="131.1" stroke="#9f00c9" stroke-width="1.25"/>
<line x1="260.5" y1="124.3" x2="260.5" y2="131.1" stroke="#9f00c9" stroke-width="1.25"/>
<line x1="261.4" y1="124.3" x2="261.4" y2="131.1" stroke="#9f00c9" stroke-width="1.25"/>
<line x1="262.3" y1="124.3" x2="262.3" y2="142.8" stroke="#9f00c9" stroke-width="1.25"/>
<line x1="263.2" y1="124.3" x2="263.2" y2="131.1" stroke="#9f00c9" stroke-width="1.25"/>
<line x1="264.1" y1="124.3" x2="264.1" y2="133.4" stroke="#9f00c9" stroke-width="1.25"/>
<line x1="265.0" y1="124.3" x2="265.0" y2="136.5" stroke="#9f00c9" stroke-width="1.25"/>
<line x1="265.9" y1="124.3" x2="265.9" y2="145.7" stroke="#9f00c9" stroke-width="1.25"/>
<line x1="266.8" y1="124.3" x2="266.8" y2="145.7" stroke="#9f00c9" stroke-width="1.25"/>
<line x1="162.9" y1="123.8" x2="162.9" y2="131.5" stroke="#9f00c9" stroke-width="1.0"/>
<path d="M158.60,124.87 L158.80,123.33 L159.00,123.66 L159.20,125.59 L159.40,122.84 L159.60,125.84 L159.80,125.62 L160.00,123.74 L160.20,124.24 L160.40,124.08 L160.60,124.55 L160.80,121.30 L161.00,122.47 L161.20,119.78 L161.40,117.15 L161.60,113.42 L161.80,110.89 L162.00,113.32 L162.20,116.83 L162.40,119.34 L162.60,122.52 L162.80,124.02 L163.00,123.30 L163.20,124.22 L163.40,122.52 L163.60,123.12 L163.80,123.61 L164.00,122.04 L164.20,122.14 L164.40,123.36 L164.60,122.77 L164.80,121.81 L165.00,123.23 L165.20,122.34 L165.40,123.39 L165.60,122.11 L165.80,121.57 L166.00,121.66 L166.20,121.10 L166.40,120.42 L166.60,120.32 L166.80,120.76 L167.00,120.34 L167.20,120.34 L167.40,118.41 L167.60,118.78 L167.80,118.48 L168.00,118.43 L168.20,117.90 L168.40,117.61 L168.60,117.78 L168.80,117.31 L169.00,116.67 L169.20,117.08 L169.40,116.69 L169.60,116.00 L169.80,115.85 L170.00,114.99 L170.20,114.27 L170.40,112.59 L170.60,109.81 L170.80,104.73 L171.00,96.95 L171.20,92.09 L171.40,97.30 L171.60,105.42 L171.80,110.82 L172.00,113.60 L172.20,115.76 L172.40,116.39 L172.60,117.79 L172.80,118.71 L173.00,118.77 L173.20,118.75 L173.40,119.05 L173.60,119.20 L173.80,119.05 L174.00,119.06 L174.20,118.87 L174.40,119.96 L174.60,119.26 L174.80,119.68 L175.00,118.96 L175.20,119.00 L175.40,118.75 L175.60,118.89 L175.80,118.87 L176.00,118.43 L176.20,117.88 L176.40,117.66 L176.60,118.32 L176.80,117.43 L177.00,117.21 L177.20,117.50 L177.40,117.14 L177.60,116.74 L177.80,116.28 L178.00,116.64 L178.20,115.98 L178.40,115.76 L178.60,115.40 L178.80,114.98 L179.00,114.78 L179.20,114.79 L179.40,114.57 L179.60,114.29 L179.80,114.00 L180.00,113.79 L180.20,113.68 L180.40,113.39 L180.60,113.32 L180.80,113.09 L181.00,112.91 L181.20,112.56 L181.40,112.24 L181.60,111.97 L181.80,111.65 L182.00,111.44 L182.20,111.16 L182.40,110.86 L182.60,110.53 L182.80,110.16 L183.00,109.71 L183.20,109.14 L183.40,108.36 L183.60,107.18 L183.80,105.27 L184.00,101.97 L184.20,96.08 L184.40,87.16 L184.60,81.50 L184.80,87.09 L185.00,95.94 L185.20,101.75 L185.40,104.97 L185.60,106.80 L185.80,107.89 L186.00,108.57 L186.20,109.01 L186.40,109.29 L186.60,109.48 L186.80,109.60 L187.00,109.67 L187.20,109.71 L187.40,109.73 L187.60,109.74 L187.80,109.73 L188.00,109.71 L188.20,109.69 L188.40,109.66 L188.60,109.63 L188.80,109.59 L189.00,109.54 L189.20,109.50 L189.40,109.45 L189.60,109.39 L189.80,109.34 L190.00,109.28 L190.20,109.21 L190.40,109.15 L190.60,109.08 L190.80,109.00 L191.00,108.92 L191.20,108.84 L191.40,108.76 L191.60,108.67 L191.80,108.58 L192.00,108.48 L192.20,108.37 L192.40,108.24 L192.60,108.10 L192.80,107.94 L193.00,107.76 L193.20,107.58 L193.40,107.38 L193.60,107.16 L193.80,106.94 L194.00,106.71 L194.20,106.47 L194.40,106.22 L194.60,105.97 L194.80,105.71 L195.00,105.45 L195.20,105.18 L195.40,104.91 L195.60,104.65 L195.80,104.38 L196.00,104.12 L196.20,103.85 L196.40,103.59 L196.60,103.33 L196.80,103.05 L197.00,102.76 L197.20,102.46 L197.40,102.15 L197.60,101.83 L197.80,101.50 L198.00,101.17 L198.20,100.83 L198.40,100.50 L198.60,100.16 L198.80,99.83 L199.00,99.50 L199.20,99.18 L199.40,98.86 L199.60,98.56 L199.80,98.26 L200.00,97.97 L200.20,97.70 L200.40,97.45 L200.60,97.21 L200.80,96.99 L201.00,96.77 L201.20,96.56 L201.40,96.34 L201.60,96.14 L201.80,95.93 L202.00,95.73 L202.20,95.53 L202.40,95.34 L202.60,95.15 L202.80,94.97 L203.00,94.79 L203.20,94.62 L203.40,94.45 L203.60,94.29 L203.80,94.13 L204.00,93.99 L204.20,93.84 L204.40,93.71 L204.60,93.58 L204.80,93.46 L205.00,93.35 L205.20,93.25 L205.40,93.14 L205.60,93.04 L205.80,92.93 L206.00,92.83 L206.20,92.72 L206.40,92.62 L206.60,92.52 L206.80,92.41 L207.00,92.32 L207.20,92.22 L207.40,92.13 L207.60,92.04 L207.80,91.95 L208.00,91.87 L208.20,91.79 L208.40,91.71 L208.60,91.64 L208.80,91.58 L209.00,91.52 L209.20,91.47 L209.40,91.42 L209.60,91.38 L209.80,91.35 L210.00,91.33 L210.20,91.31 L210.40,91.30 L210.60,91.30 L210.80,91.31 L211.00,91.33 L211.20,91.36 L211.40,91.40 L211.60,91.45 L211.80,91.50 L212.00,91.57 L212.20,91.64 L212.40,91.72 L212.60,91.80 L212.80,91.89 L213.00,91.99 L213.20,92.09 L213.40,92.20 L213.60,92.31 L213.80,92.42 L214.00,92.54 L214.20,92.66 L214.40,92.78 L214.60,92.91 L214.80,93.03 L215.00,93.16 L215.20,93.29 L215.40,93.42 L215.60,93.55 L215.80,93.67 L216.00,93.80 L216.20,93.93 L216.40,94.06 L216.60,94.21 L216.80,94.36 L217.00,94.52 L217.20,94.68 L217.40,94.85 L217.60,95.03 L217.80,95.21 L218.00,95.40 L218.20,95.59 L218.40,95.79 L218.60,95.99 L218.80,96.20 L219.00,96.41 L219.20,96.63 L219.40,96.85 L219.60,97.07 L219.80,97.29 L220.00,97.52 L220.20,97.75 L220.40,97.99 L220.60,98.22 L220.80,98.46 L221.00,98.70 L221.20,98.93 L221.40,99.17 L221.60,99.42 L221.80,99.67 L222.00,99.93 L222.20,100.19 L222.40,100.47 L222.60,100.75 L222.80,101.04 L223.00,101.33 L223.20,101.63 L223.40,101.94 L223.60,102.25 L223.80,102.56 L224.00,102.87 L224.20,103.19 L224.40,103.51 L224.60,103.84 L224.80,104.16 L225.00,104.48 L225.20,104.81 L225.40,105.13 L225.60,105.45 L225.80,105.77 L226.00,106.09 L226.20,106.40 L226.40,106.71 L226.60,107.02 L226.80,107.32 L227.00,107.62 L227.20,107.93 L227.40,108.24 L227.60,108.55 L227.80,108.87 L228.00,109.20 L228.20,109.52 L228.40,109.84 L228.60,110.16 L228.80,110.48 L229.00,110.79 L229.20,111.13 L229.40,111.38 L229.60,111.70 L229.80,111.99 L230.00,112.25 L230.20,112.43 L230.40,112.69 L230.60,112.91 L230.80,113.11 L231.00,113.15 L231.20,113.19 L231.40,113.32 L231.60,113.24 L231.80,112.97 L232.00,112.49 L232.20,111.75 L232.40,110.33 L232.60,107.75 L232.80,103.00 L233.00,95.68 L233.20,91.10 L233.40,95.95 L233.60,103.53 L233.80,108.56 L234.00,111.41 L234.20,113.12 L234.40,114.02 L234.60,114.87 L234.80,115.47 L235.00,115.85 L235.20,116.35 L235.40,116.10 L235.60,116.23 L235.80,116.87 L236.00,117.11 L236.20,117.77 L236.40,117.49 L236.60,117.16 L236.80,117.85 L237.00,117.41 L237.20,117.30 L237.40,118.93 L237.60,118.21 L237.80,118.48 L238.00,118.55 L238.20,119.20 L238.40,118.67 L238.60,119.21 L238.80,118.30 L239.00,118.23 L239.20,119.70 L239.40,119.85 L239.60,119.49 L239.80,119.46 L240.00,119.55 L240.20,119.19 L240.40,120.59 L240.60,120.23 L240.80,120.28 L241.00,120.36 L241.20,120.95 L241.40,120.75 L241.60,121.08 L241.80,119.87 L242.00,121.23 L242.20,122.66 L242.40,120.72 L242.60,121.15 L242.80,122.11 L243.00,122.28 L243.20,122.11 L243.40,120.25 L243.60,122.15 L243.80,120.70 L244.00,121.02 L244.20,122.21 L244.40,121.39 L244.60,122.21 L244.80,123.86 L245.00,121.55 L245.20,120.92 L245.40,119.12 L245.60,118.10 L245.80,116.06 L246.00,112.70 L246.20,106.70 L246.40,99.77 L246.60,99.52 L246.80,105.95 L247.00,111.47 L247.20,114.44 L247.40,116.34 L247.60,117.12 L247.80,117.91 L248.00,118.19 L248.20,117.82 L248.40,118.27 L248.60,117.51 L248.80,118.98 L249.00,118.63 L249.20,118.14 L249.40,117.82 L249.60,118.53 L249.80,117.65 L250.00,118.19 L250.20,118.95 L250.40,118.75 L250.60,118.59 L250.80,119.38 L251.00,118.53 L251.20,119.30 L251.40,119.02 L251.60,118.96 L251.80,119.80 L252.00,119.11 L252.20,120.93 L252.40,119.59 L252.60,121.33 L252.80,119.51 L253.00,120.75 L253.20,119.66 L253.40,119.66 L253.60,120.82 L253.80,121.30 L254.00,119.95 L254.20,121.86 L254.40,120.41 L254.60,121.13 L254.80,121.29 L255.00,121.35 L255.20,119.43 L255.40,121.46 L255.60,120.11 L255.80,118.51 L256.00,116.44 L256.20,113.09 L256.40,109.13 L256.60,109.21 L256.80,113.41 L257.00,116.78 L257.20,118.99 L257.40,121.58 L257.60,121.00 L257.80,121.24 L258.00,123.38 L258.20,122.81 L258.40,122.60 L258.60,122.06 L258.80,121.16 L259.00,121.65 L259.20,122.50 L259.40,122.88 L259.60,123.63 L259.80,123.94 L260.00,123.63 L260.20,123.70 L260.40,122.28 L260.60,120.92 L260.80,122.98 L261.00,122.49 L261.20,122.92 L261.40,123.45 L261.60,122.25 L261.80,122.46 L262.00,123.83 L262.20,124.16 L262.40,123.19 L262.60,124.78 L262.80,123.86 L263.00,122.82 L263.20,124.31 L263.40,126.91 L263.60,123.40 L263.80,126.03 L264.00,126.38 L264.20,126.60 L264.40,123.33 L264.60,127.46 L264.80,124.75 L265.00,124.25 L265.20,124.32 L265.40,125.57 L265.60,124.80 L265.80,124.49 L266.00,126.70 L266.20,123.73 L266.40,123.28 L266.60,126.06 L266.80,125.96 L267.00,126.57 L267.20,123.36 L267.40,126.62" stroke="#9f00c9" stroke-width="1.35" fill="none" stroke-linejoin="round"/>
<rect x="261.5" y="82.9" width="32.4" height="29.4" fill="#474747"/>
<g filter="url(#soft)"><ellipse cx="277.4" cy="97.2" rx="10.9" ry="10.5" fill="url(#beamB)" transform="rotate(0 277.4 97.2)"/>
<circle cx="282.6" cy="96.7" r="1.5" fill="#ffa000" opacity="0.7"/>
<circle cx="273.1" cy="93.2" r="1.6" fill="#30e020" opacity="0.8"/>
<circle cx="277.9" cy="102.8" r="1.6" fill="#30e020" opacity="0.7"/>
</g>
<polygon points="31.6,213.7 31.1,195.8 32.0,195.8 32.0,195.9 33.0,195.9 33.0,196.0 34.0,196.0 34.0,194.7 35.0,194.7 35.0,195.3 36.0,195.3 36.0,196.1 37.0,196.1 37.0,194.9 38.0,194.9 38.0,194.9 39.0,194.9 39.0,196.1 40.0,196.1 40.0,196.7 41.0,196.7 41.0,194.7 42.0,194.7 42.0,193.6 43.0,193.6 43.0,194.5 44.0,194.5 44.0,194.9 45.0,194.9 45.0,195.6 46.0,195.6 46.0,196.2 47.0,196.2 47.0,195.7 48.0,195.7 48.0,195.3 49.0,195.3 49.0,196.0 50.0,196.0 50.0,193.8 51.0,193.8 51.0,195.9 52.0,195.9 52.0,195.5 53.0,195.5 53.0,198.0 54.0,198.0 54.0,196.5 55.0,196.5 55.0,195.2 56.0,195.2 56.0,195.0 57.0,195.0 57.0,195.3 58.0,195.3 58.0,194.3 59.0,194.3 59.0,194.9 60.0,194.9 60.0,194.8 61.0,194.8 61.0,195.9 62.0,195.9 62.0,194.8 63.0,194.8 63.0,194.4 64.0,194.4 64.0,193.9 65.0,193.9 65.0,193.9 66.0,193.9 66.0,194.7 67.0,194.7 67.0,194.5 68.0,194.5 68.0,195.4 69.0,195.4 69.0,194.0 70.0,194.0 70.0,194.2 71.0,194.2 71.0,194.4 72.0,194.4 72.0,194.1 73.0,194.1 73.0,191.6 74.0,191.6 74.0,192.3 75.0,192.3 75.0,194.1 76.0,194.1 76.0,195.0 77.0,195.0 77.0,194.2 78.0,194.2 78.0,194.6 79.0,194.6 79.0,193.8 80.0,193.8 80.0,193.9 81.0,193.9 81.0,193.7 82.0,193.7 82.0,195.0 83.0,195.0 83.0,194.6 84.0,194.6 84.0,194.2 85.0,194.2 85.0,193.1 86.0,193.1 86.0,194.9 87.0,194.9 87.0,194.7 88.0,194.7 88.0,193.9 89.0,193.9 89.0,195.9 90.0,195.9 90.0,194.8 91.0,194.8 91.0,194.1 92.0,194.1 92.0,195.8 93.0,195.8 93.0,195.5 94.0,195.5 94.0,192.8 95.0,192.8 95.0,195.3 96.0,195.3 96.0,194.1 97.0,194.1 97.0,194.4 98.0,194.4 98.0,193.2 99.0,193.2 99.0,195.8 100.0,195.8 100.0,193.4 101.0,193.4 101.0,195.3 102.0,195.3 102.0,193.8 103.0,193.8 103.0,194.1 104.0,194.1 104.0,194.6 105.0,194.6 105.0,195.0 106.0,195.0 106.0,195.2 107.0,195.2 107.0,196.1 108.0,196.1 108.0,195.0 109.0,195.0 109.0,195.4 110.0,195.4 110.0,192.1 111.0,192.1 111.0,193.3 112.0,193.3 112.0,194.8 113.0,194.8 113.0,193.4 114.0,193.4 114.0,192.8 115.0,192.8 115.0,194.5 116.0,194.5 116.0,194.7 117.0,194.7 117.0,193.6 118.0,193.6 118.0,194.2 119.0,194.2 119.0,193.9 120.0,193.9 120.0,195.0 121.0,195.0 121.0,193.1 122.0,193.1 122.0,193.9 123.0,193.9 123.0,195.5 124.0,195.5 124.0,192.2 125.0,192.2 125.0,193.7 126.0,193.7 126.0,194.7 127.0,194.7 127.0,192.9 128.0,192.9 128.0,196.0 129.0,196.0 129.0,192.1 130.0,192.1 130.0,195.1 131.0,195.1 131.0,195.1 132.0,195.1 132.0,194.6 133.0,194.6 133.0,193.7 134.0,193.7 134.0,194.1 135.0,194.1 135.0,193.1 136.0,193.1 136.0,194.3 137.0,194.3 137.0,192.8 138.0,192.8 138.0,193.4 139.0,193.4 139.0,194.3 140.0,194.3 140.0,192.7 141.0,192.7 141.0,193.3 142.0,193.3 142.0,193.8 143.0,193.8 143.0,192.6 144.0,192.6 144.0,194.6 145.0,194.6 145.0,194.0 146.0,194.0 146.0,192.6 147.0,192.6 147.0,193.7 148.0,193.7 148.0,193.2 149.0,193.2 149.0,193.3 150.0,193.3 150.0,193.9 151.0,193.9 151.0,193.3 152.0,193.3 152.0,194.6 153.0,194.6 153.0,193.4 154.0,193.4 154.0,194.7 155.0,194.7 155.0,192.9 156.0,192.9 156.0,194.6 157.0,194.6 157.0,191.8 158.0,191.8 158.0,193.6 159.0,193.6 159.0,193.2 160.0,193.2 160.0,194.5 161.0,194.5 161.0,194.8 162.0,194.8 162.0,195.7 163.0,195.7 163.0,195.1 164.0,195.1 164.0,194.4 165.0,194.4 165.0,194.1 166.0,194.1 166.0,194.6 167.0,194.6 167.0,194.4 168.0,194.4 168.0,195.5 169.0,195.5 169.0,195.2 170.0,195.2 170.0,193.9 171.0,193.9 171.0,194.1 172.0,194.1 172.0,195.7 173.0,195.7 173.0,194.9 174.0,194.9 174.0,194.6 175.0,194.6 175.0,195.7 176.0,195.7 176.0,194.6 177.0,194.6 177.0,194.7 178.0,194.7 178.0,194.6 179.0,194.6 179.0,193.5 180.0,193.5 180.0,195.7 181.0,195.7 181.0,194.2 182.0,194.2 182.0,194.7 183.0,194.7 183.0,194.6 184.0,194.6 184.0,195.7 185.0,195.7 185.0,195.0 186.0,195.0 186.0,195.0 187.0,195.0 187.0,193.7 188.0,193.7 188.0,193.0 189.0,193.0 189.0,193.7 190.0,193.7 190.0,195.0 191.0,195.0 191.0,194.9 192.0,194.9 192.0,194.6 193.0,194.6 193.0,196.1 194.0,196.1 194.0,194.4 195.0,194.4 195.0,194.8 196.0,194.8 196.0,194.4 197.0,194.4 197.0,194.1 198.0,194.1 198.0,194.9 199.0,194.9 199.0,195.0 200.0,195.0 200.0,193.1 201.0,193.1 201.0,194.8 202.0,194.8 202.0,194.3 203.0,194.3 203.0,192.6 204.0,192.6 204.0,194.1 205.0,194.1 205.0,192.8 206.0,192.8 206.0,192.8 207.0,192.8 207.0,195.0 208.0,195.0 208.0,193.8 209.0,193.8 209.0,192.5 210.0,192.5 210.0,193.8 211.0,193.8 211.0,193.2 212.0,193.2 212.0,192.1 213.0,192.1 213.0,191.7 214.0,191.7 214.0,192.2 215.0,192.2 215.0,193.5 216.0,193.5 216.0,193.3 217.0,193.3 217.0,193.1 218.0,193.1 218.0,193.5 219.0,193.5 219.0,193.7 220.0,193.7 220.0,191.6 221.0,191.6 221.0,192.9 222.0,192.9 222.0,192.5 223.0,192.5 223.0,192.1 224.0,192.1 224.0,192.6 225.0,192.6 225.0,192.9 226.0,192.9 226.0,192.7 227.0,192.7 226.5,191.8 227.5,191.8 227.0,213.7" fill="#9f00c9"/>
<polygon points="344.3,213.7 343.8,196.1 344.8,196.1 344.8,194.7 345.8,194.7 345.8,195.3 346.8,195.3 346.8,196.0 347.8,196.0 347.8,195.9 348.8,195.9 348.8,194.0 349.8,194.0 349.8,194.6 350.8,194.6 350.8,195.7 351.8,195.7 351.8,195.3 352.8,195.3 352.8,194.3 353.8,194.3 353.8,193.8 354.8,193.8 354.8,194.4 355.8,194.4 355.8,193.9 356.8,193.9 356.8,194.0 357.8,194.0 357.8,194.7 358.8,194.7 358.8,195.4 359.8,195.4 359.8,195.5 360.8,195.5 360.8,194.8 361.8,194.8 361.8,193.7 362.8,193.7 362.8,194.1 363.8,194.1 363.8,193.9 364.8,193.9 364.8,194.4 365.8,194.4 365.8,193.0 366.8,193.0 366.8,194.6 367.8,194.6 367.8,195.0 368.8,195.0 368.8,194.4 369.8,194.4 369.8,194.9 370.8,194.9 370.8,193.9 371.8,193.9 371.8,193.5 372.8,193.5 372.8,194.1 373.8,194.1 373.8,195.4 374.8,195.4 374.8,195.4 375.8,195.4 375.8,194.2 376.8,194.2 376.8,195.5 377.8,195.5 377.8,192.6 378.8,192.6 378.8,195.7 379.8,195.7 379.8,195.0 380.8,195.0 380.8,194.3 381.8,194.3 381.8,195.2 382.8,195.2 382.8,194.0 383.8,194.0 383.8,193.9 384.8,193.9 384.8,193.5 385.8,193.5 385.8,194.8 386.8,194.8 386.8,193.7 387.8,193.7 387.8,194.6 388.8,194.6 388.8,194.4 389.8,194.4 389.8,195.8 390.8,195.8 390.8,193.6 391.8,193.6 391.8,194.3 392.8,194.3 392.8,195.8 393.8,195.8 393.8,196.0 394.8,196.0 394.8,193.4 395.8,193.4 395.8,193.7 396.8,193.7 396.8,194.6 397.8,194.6 397.8,195.5 398.8,195.5 398.8,195.1 399.8,195.1 399.8,196.3 400.8,196.3 400.8,194.2 401.8,194.2 401.8,195.7 402.8,195.7 402.8,194.8 403.8,194.8 403.8,196.3 404.8,196.3 404.8,195.3 405.8,195.3 405.8,196.2 406.8,196.2 406.8,193.5 407.8,193.5 407.8,194.4 408.8,194.4 408.8,194.6 409.8,194.6 409.8,195.0 410.8,195.0 410.8,194.7 411.8,194.7 411.8,196.3 412.8,196.3 412.8,196.4 413.8,196.4 413.8,195.6 414.8,195.6 414.8,194.6 415.8,194.6 415.8,195.3 416.8,195.3 416.8,194.9 417.8,194.9 417.8,196.5 418.8,196.5 418.8,195.6 419.8,195.6 419.8,195.7 420.8,195.7 420.8,195.1 421.8,195.1 421.8,193.9 422.8,193.9 422.8,194.8 423.8,194.8 423.8,192.4 424.8,192.4 424.8,195.6 425.8,195.6 425.8,195.4 426.8,195.4 426.8,194.7 427.8,194.7 427.8,195.0 428.8,195.0 428.8,196.5 429.8,196.5 429.8,194.6 430.8,194.6 430.8,194.6 431.8,194.6 431.8,195.1 432.8,195.1 432.8,194.7 433.8,194.7 433.8,194.9 434.8,194.9 434.8,195.6 435.8,195.6 435.8,196.5 436.8,196.5 436.8,193.9 437.8,193.9 437.8,193.3 438.8,193.3 438.8,195.2 439.8,195.2 439.8,195.1 440.8,195.1 440.8,195.0 441.8,195.0 441.8,194.9 442.8,194.9 442.8,195.9 443.8,195.9 443.8,194.8 444.8,194.8 444.8,195.0 445.8,195.0 445.8,195.1 446.8,195.1 446.8,194.9 447.8,194.9 447.8,195.0 448.8,195.0 448.8,195.8 449.8,195.8 449.8,193.9 450.8,193.9 450.8,195.2 451.8,195.2 451.8,195.0 452.8,195.0 452.8,194.3 453.8,194.3 453.8,194.4 454.8,194.4 454.8,194.3 455.8,194.3 455.8,195.2 456.8,195.2 456.8,194.5 457.8,194.5 457.8,194.2 458.8,194.2 458.8,195.2 459.8,195.2 459.8,195.4 460.8,195.4 460.8,193.7 461.8,193.7 461.8,196.3 462.8,196.3 462.8,195.0 463.8,195.0 463.8,194.9 464.8,194.9 464.8,195.8 465.8,195.8 465.8,195.1 466.8,195.1 466.8,194.6 467.8,194.6 467.8,196.7 468.8,196.7 468.8,194.2 469.8,194.2 469.8,194.9 470.8,194.9 470.8,195.6 471.8,195.6 471.8,194.2 472.8,194.2 472.8,195.0 473.8,195.0 473.8,195.4 474.8,195.4 474.8,196.9 475.8,196.9 475.8,194.5 476.8,194.5 476.8,195.2 477.8,195.2 477.8,195.8 478.8,195.8 478.8,195.4 479.8,195.4 479.8,194.5 480.8,194.5 480.8,195.7 481.8,195.7 481.8,195.6 482.8,195.6 482.8,195.9 483.8,195.9 483.8,196.4 484.8,196.4 484.8,196.4 485.8,196.4 485.8,196.0 486.8,196.0 486.8,196.0 487.8,196.0 487.8,194.9 488.8,194.9 488.8,195.7 489.8,195.7 489.8,196.0 490.8,196.0 490.8,195.6 491.8,195.6 491.8,196.0 492.8,196.0 492.8,195.4 493.8,195.4 493.8,197.1 494.8,197.1 494.8,197.5 495.8,197.5 495.8,195.6 496.8,195.6 496.8,194.5 497.8,194.5 497.8,195.6 498.8,195.6 498.8,196.7 499.8,196.7 499.8,195.9 500.8,195.9 500.8,195.7 501.8,195.7 501.8,195.5 502.8,195.5 502.8,195.7 503.8,195.7 503.8,194.8 504.8,194.8 504.8,194.8 505.8,194.8 505.8,195.0 506.8,195.0 506.8,195.8 507.8,195.8 507.8,195.5 508.8,195.5 508.8,196.2 509.8,196.2 509.8,195.3 510.8,195.3 510.8,196.1 511.8,196.1 511.8,194.6 512.8,194.6 512.8,195.7 513.8,195.7 513.8,195.0 514.8,195.0 514.8,195.3 515.8,195.3 515.8,195.2 516.8,195.2 516.8,195.8 517.8,195.8 517.8,191.4 518.8,191.4 518.8,195.3 519.8,195.3 519.8,193.9 520.8,193.9 520.8,195.9 521.8,195.9 521.8,193.5 522.8,193.5 522.8,194.2 523.8,194.2 523.8,193.7 524.8,193.7 524.8,196.2 525.8,196.2 525.8,194.0 526.8,194.0 526.8,195.0 527.8,195.0 527.8,194.5 528.8,194.5 528.8,193.5 529.8,193.5 529.8,194.6 530.8,194.6 530.8,195.3 531.8,195.3 531.8,194.7 532.8,194.7 532.8,195.5 533.8,195.5 533.8,194.5 534.8,194.5 534.8,194.8 535.8,194.8 535.5,194.4 536.5,194.4 536.0,213.7" fill="#9f00c9"/>
<rect x="345.70" y="204.7" width="0.6" height="9.0" fill="#fff" opacity="0.8"/>
<rect x="348.70" y="203.7" width="0.6" height="10.0" fill="#fff" opacity="0.8"/>
<rect x="355.75" y="204.7" width="0.5" height="9.0" fill="#fff" opacity="0.8"/>
<rect x="359.70" y="203.7" width="0.6" height="10.0" fill="#fff" opacity="0.8"/>
<rect x="366.75" y="204.7" width="0.5" height="9.0" fill="#fff" opacity="0.8"/>
<rect x="368.75" y="205.7" width="0.5" height="8.0" fill="#fff" opacity="0.8"/>
<rect x="202.50" y="200.2" width="1.4" height="13.5" fill="#fff" opacity="0.95"/>
<rect x="202.50" y="212.15" width="1.4" height="1.5" fill="#000"/>
<rect x="206.50" y="200.2" width="1.4" height="13.5" fill="#fff" opacity="0.95"/>
<rect x="206.50" y="212.15" width="1.4" height="1.5" fill="#000"/>
<rect x="213.10" y="200.2" width="0.8" height="13.5" fill="#fff" opacity="0.95"/>
<rect x="213.10" y="212.15" width="0.8" height="1.5" fill="#000"/>
<rect x="214.65" y="201.7" width="0.5" height="12.0" fill="#fff" opacity="0.8"/>
<rect x="217.95" y="207.7" width="0.5" height="6.0" fill="#fff" opacity="0.8"/>
<rect x="220.10" y="201.7" width="0.8" height="12.0" fill="#fff" opacity="0.95"/>
<rect x="220.10" y="212.15" width="0.8" height="1.5" fill="#000"/>
<line x1="227.0" y1="192.9" x2="227.0" y2="213.7" stroke="#9f00c9" stroke-width="1.25"/>
<line x1="227.9" y1="192.9" x2="227.9" y2="200.3" stroke="#9f00c9" stroke-width="1.25"/>
<line x1="228.8" y1="192.9" x2="228.8" y2="208.0" stroke="#9f00c9" stroke-width="1.25"/>
<line x1="229.7" y1="192.9" x2="229.7" y2="200.1" stroke="#9f00c9" stroke-width="1.25"/>
<line x1="230.6" y1="192.9" x2="230.6" y2="203.5" stroke="#9f00c9" stroke-width="1.25"/>
<line x1="231.5" y1="192.9" x2="231.5" y2="207.1" stroke="#9f00c9" stroke-width="1.25"/>
<line x1="232.4" y1="192.9" x2="232.4" y2="199.5" stroke="#9f00c9" stroke-width="1.25"/>
<line x1="233.3" y1="192.9" x2="233.3" y2="199.8" stroke="#9f00c9" stroke-width="1.25"/>
<line x1="341.2" y1="192.9" x2="341.2" y2="199.5" stroke="#9f00c9" stroke-width="1.25"/>
<line x1="342.1" y1="192.9" x2="342.1" y2="211.6" stroke="#9f00c9" stroke-width="1.25"/>
<line x1="343.0" y1="192.9" x2="343.0" y2="211.4" stroke="#9f00c9" stroke-width="1.25"/>
<line x1="343.9" y1="192.9" x2="343.9" y2="213.7" stroke="#9f00c9" stroke-width="1.25"/>
<line x1="341.6" y1="193.8" x2="341.6" y2="202.6" stroke="#9f00c9" stroke-width="1.0"/>
<path d="M233.20,190.58 L233.40,190.63 L233.60,192.81 L233.80,191.05 L234.00,190.59 L234.20,190.64 L234.40,188.73 L234.60,189.35 L234.80,187.59 L235.00,185.65 L235.20,181.96 L235.40,176.78 L235.60,173.39 L235.80,176.33 L236.00,181.13 L236.20,184.30 L236.40,185.90 L236.60,186.80 L236.80,185.84 L237.00,187.49 L237.20,187.03 L237.40,187.12 L237.60,186.82 L237.80,186.21 L238.00,186.35 L238.20,186.55 L238.40,186.53 L238.60,185.62 L238.80,185.28 L239.00,185.62 L239.20,184.77 L239.40,185.12 L239.60,184.40 L239.80,183.95 L240.00,183.96 L240.20,183.75 L240.40,183.06 L240.60,183.12 L240.80,182.65 L241.00,182.52 L241.20,182.11 L241.40,181.77 L241.60,181.64 L241.80,181.41 L242.00,181.21 L242.20,180.95 L242.40,180.68 L242.60,180.43 L242.80,180.21 L243.00,179.99 L243.20,179.76 L243.40,179.53 L243.60,179.26 L243.80,178.98 L244.00,178.60 L244.20,178.11 L244.40,177.40 L244.60,176.35 L244.80,174.72 L245.00,171.88 L245.20,166.68 L245.40,158.65 L245.60,153.79 L245.80,159.72 L246.00,168.77 L246.20,174.90 L246.40,178.55 L246.60,180.82 L246.80,182.32 L247.00,183.19 L247.20,183.86 L247.40,184.36 L247.60,184.74 L247.80,184.52 L248.00,184.54 L248.20,185.09 L248.40,184.65 L248.60,185.09 L248.80,184.88 L249.00,184.98 L249.20,185.10 L249.40,184.81 L249.60,184.74 L249.80,184.31 L250.00,184.26 L250.20,184.40 L250.40,184.43 L250.60,184.27 L250.80,184.28 L251.00,183.82 L251.20,183.66 L251.40,183.62 L251.60,183.33 L251.80,183.16 L252.00,182.89 L252.20,182.94 L252.40,182.57 L252.60,182.54 L252.80,182.21 L253.00,182.23 L253.20,181.90 L253.40,181.84 L253.60,181.52 L253.80,181.40 L254.00,181.29 L254.20,181.02 L254.40,180.87 L254.60,180.67 L254.80,180.44 L255.00,180.31 L255.20,180.10 L255.40,179.81 L255.60,179.52 L255.80,179.16 L256.00,178.79 L256.20,178.40 L256.40,177.98 L256.60,177.56 L256.80,177.14 L257.00,176.71 L257.20,176.28 L257.40,175.86 L257.60,175.43 L257.80,174.98 L258.00,174.49 L258.20,173.91 L258.40,173.14 L258.60,171.94 L258.80,169.96 L259.00,166.50 L259.20,160.30 L259.40,150.87 L259.60,144.90 L259.80,150.86 L260.00,160.29 L260.20,166.48 L260.40,169.93 L260.60,171.90 L260.80,173.09 L261.00,173.84 L261.20,174.34 L261.40,174.69 L261.60,174.92 L261.80,175.10 L262.00,175.22 L262.20,175.32 L262.40,175.39 L262.60,175.44 L262.80,175.48 L263.00,175.51 L263.20,175.53 L263.40,175.54 L263.60,175.55 L263.80,175.55 L264.00,175.53 L264.20,175.52 L264.40,175.49 L264.60,175.47 L264.80,175.43 L265.00,175.39 L265.20,175.35 L265.40,175.30 L265.60,175.25 L265.80,175.20 L266.00,175.14 L266.20,175.08 L266.40,175.02 L266.60,174.95 L266.80,174.88 L267.00,174.81 L267.20,174.74 L267.40,174.66 L267.60,174.58 L267.80,174.51 L268.00,174.43 L268.20,174.34 L268.40,174.25 L268.60,174.14 L268.80,174.01 L269.00,173.88 L269.20,173.73 L269.40,173.57 L269.60,173.40 L269.80,173.22 L270.00,173.04 L270.20,172.85 L270.40,172.65 L270.60,172.45 L270.80,172.24 L271.00,172.03 L271.20,171.82 L271.40,171.60 L271.60,171.39 L271.80,171.17 L272.00,170.96 L272.20,170.75 L272.40,170.54 L272.60,170.34 L272.80,170.14 L273.00,169.95 L273.20,169.76 L273.40,169.58 L273.60,169.41 L273.80,169.24 L274.00,169.06 L274.20,168.88 L274.40,168.70 L274.60,168.52 L274.80,168.33 L275.00,168.15 L275.20,167.96 L275.40,167.78 L275.60,167.59 L275.80,167.41 L276.00,167.23 L276.20,167.05 L276.40,166.87 L276.60,166.70 L276.80,166.54 L277.00,166.37 L277.20,166.21 L277.40,166.06 L277.60,165.91 L277.80,165.77 L278.00,165.64 L278.20,165.51 L278.40,165.40 L278.60,165.29 L278.80,165.19 L279.00,165.10 L279.20,165.01 L279.40,164.93 L279.60,164.84 L279.80,164.76 L280.00,164.67 L280.20,164.59 L280.40,164.51 L280.60,164.43 L280.80,164.35 L281.00,164.27 L281.20,164.20 L281.40,164.12 L281.60,164.06 L281.80,163.99 L282.00,163.92 L282.20,163.86 L282.40,163.81 L282.60,163.76 L282.80,163.71 L283.00,163.66 L283.20,163.62 L283.40,163.59 L283.60,163.56 L283.80,163.54 L284.00,163.52 L284.20,163.51 L284.40,163.50 L284.60,163.50 L284.80,163.51 L285.00,163.52 L285.20,163.54 L285.40,163.57 L285.60,163.60 L285.80,163.64 L286.00,163.68 L286.20,163.73 L286.40,163.78 L286.60,163.84 L286.80,163.90 L287.00,163.96 L287.20,164.03 L287.40,164.10 L287.60,164.17 L287.80,164.25 L288.00,164.33 L288.20,164.40 L288.40,164.49 L288.60,164.57 L288.80,164.65 L289.00,164.73 L289.20,164.81 L289.40,164.89 L289.60,164.98 L289.80,165.06 L290.00,165.14 L290.20,165.22 L290.40,165.31 L290.60,165.40 L290.80,165.49 L291.00,165.59 L291.20,165.69 L291.40,165.80 L291.60,165.91 L291.80,166.02 L292.00,166.13 L292.20,166.25 L292.40,166.37 L292.60,166.49 L292.80,166.62 L293.00,166.75 L293.20,166.88 L293.40,167.01 L293.60,167.14 L293.80,167.27 L294.00,167.41 L294.20,167.55 L294.40,167.68 L294.60,167.82 L294.80,167.96 L295.00,168.10 L295.20,168.25 L295.40,168.39 L295.60,168.53 L295.80,168.68 L296.00,168.84 L296.20,169.00 L296.40,169.16 L296.60,169.33 L296.80,169.50 L297.00,169.68 L297.20,169.86 L297.40,170.03 L297.60,170.22 L297.80,170.40 L298.00,170.58 L298.20,170.77 L298.40,170.95 L298.60,171.13 L298.80,171.31 L299.00,171.49 L299.20,171.67 L299.40,171.84 L299.60,172.01 L299.80,172.18 L300.00,172.33 L300.20,172.48 L300.40,172.62 L300.60,172.76 L300.80,172.88 L301.00,173.00 L301.20,173.10 L301.40,173.19 L301.60,173.25 L301.80,173.27 L302.00,173.22 L302.20,173.06 L302.40,172.73 L302.60,172.08 L302.80,170.85 L303.00,168.49 L303.20,164.05 L303.40,157.15 L303.60,152.90 L303.80,157.78 L304.00,165.32 L304.20,170.38 L304.40,173.35 L304.60,175.18 L304.80,176.41 L305.00,177.31 L305.20,178.00 L305.40,178.56 L305.60,179.03 L305.80,179.44 L306.00,179.84 L306.20,180.20 L306.40,180.56 L306.60,180.86 L306.80,181.22 L307.00,181.44 L307.20,181.80 L307.40,182.04 L307.60,182.39 L307.80,182.73 L308.00,183.05 L308.20,183.08 L308.40,183.62 L308.60,183.63 L308.80,183.77 L309.00,184.13 L309.20,184.09 L309.40,184.57 L309.60,184.81 L309.80,184.87 L310.00,185.21 L310.20,185.15 L310.40,185.37 L310.60,185.11 L310.80,185.64 L311.00,185.50 L311.20,185.73 L311.40,185.95 L311.60,186.16 L311.80,185.65 L312.00,185.76 L312.20,186.30 L312.40,186.69 L312.60,186.76 L312.80,187.08 L313.00,187.37 L313.20,187.17 L313.40,187.08 L313.60,186.76 L313.80,186.91 L314.00,187.26 L314.20,187.76 L314.40,187.89 L314.60,187.94 L314.80,188.01 L315.00,188.63 L315.20,188.68 L315.40,189.20 L315.60,189.77 L315.80,189.63 L316.00,189.60 L316.20,191.30 L316.40,191.22 L316.60,190.24 L316.80,189.41 L317.00,190.03 L317.20,186.50 L317.40,183.68 L317.60,178.35 L317.80,170.30 L318.00,165.04 L318.20,169.51 L318.40,176.79 L318.60,181.45 L318.80,183.91 L319.00,185.03 L319.20,185.84 L319.40,185.76 L319.60,185.74 L319.80,185.87 L320.00,186.04 L320.20,185.80 L320.40,185.86 L320.60,185.08 L320.80,186.06 L321.00,186.48 L321.20,186.25 L321.40,185.82 L321.60,185.73 L321.80,186.18 L322.00,185.86 L322.20,186.55 L322.40,186.22 L322.60,186.89 L322.80,187.18 L323.00,185.99 L323.20,187.05 L323.40,186.77 L323.60,186.59 L323.80,187.07 L324.00,187.40 L324.20,188.15 L324.40,187.01 L324.60,188.48 L324.80,189.15 L325.00,188.52 L325.20,188.61 L325.40,188.39 L325.60,187.78 L325.80,188.86 L326.00,188.79 L326.20,188.97 L326.40,189.93 L326.60,188.60 L326.80,187.99 L327.00,187.68 L327.20,185.25 L327.40,182.92 L327.60,179.07 L327.80,176.59 L328.00,179.27 L328.20,183.39 L328.40,186.78 L328.60,188.54 L328.80,189.19 L329.00,189.03 L329.20,190.19 L329.40,190.67 L329.60,189.30 L329.80,190.69 L330.00,191.16 L330.20,190.83 L330.40,192.22 L330.60,191.98 L330.80,190.08 L331.00,191.08 L331.20,190.18 L331.40,191.66 L331.60,190.24 L331.80,192.13 L332.00,191.63 L332.20,192.29 L332.40,191.16 L332.60,189.80 L332.80,193.29 L333.00,191.24 L333.20,192.96 L333.40,191.97 L333.60,192.27 L333.80,193.58 L334.00,191.95 L334.20,193.15 L334.40,189.95 L334.60,192.55 L334.80,191.27 L335.00,191.29 L335.20,191.22 L335.40,191.04 L335.60,190.76 L335.80,186.49 L336.00,187.39 L336.20,189.09 L336.40,192.06 L336.60,191.03 L336.80,192.33 L337.00,191.52 L337.20,192.93 L337.40,193.47 L337.60,191.80 L337.80,192.44 L338.00,190.62 L338.20,192.91 L338.40,193.70 L338.60,191.90 L338.80,194.22 L339.00,189.96 L339.20,190.31 L339.40,190.99 L339.60,192.31 L339.80,193.10 L340.00,193.03 L340.20,193.12 L340.40,194.35 L340.60,192.65 L340.80,191.53 L341.00,191.61 L341.20,196.69 L341.40,190.02 L341.60,193.26 L341.80,195.62 L342.00,193.88 L342.20,191.48 L342.40,191.07 L342.60,188.78 L342.80,189.07 L343.00,190.37 L343.20,194.07 L343.40,194.17 L343.60,195.87 L343.80,196.56 L344.00,194.15 L344.20,192.64 L344.40,195.48" stroke="#9f00c9" stroke-width="1.35" fill="none" stroke-linejoin="round"/>
<rect x="334.9" y="150.9" width="31.8" height="29.4" fill="#474747"/>
<g filter="url(#soft)"><ellipse cx="350.8" cy="165.8" rx="10.6" ry="10.0" fill="url(#beamC)" transform="rotate(0 350.8 165.8)"/>
<circle cx="356.0" cy="167.3" r="1.4" fill="#ffa000" opacity="0.7"/>
<circle cx="346.0" cy="168.3" r="1.4" fill="#ffb000" opacity="0.6"/>
<circle cx="352.3" cy="171.3" r="1.6" fill="#30e020" opacity="0.8"/>
<circle cx="349.3" cy="160.0" r="1.5" fill="#30e020" opacity="0.6"/>
</g>
<polygon points="31.6,281.4 31.1,264.0 32.0,264.0 32.0,262.8 33.0,262.8 33.0,263.3 34.0,263.3 34.0,264.3 35.0,264.3 35.0,263.4 36.0,263.4 36.0,263.9 37.0,263.9 37.0,263.8 38.0,263.8 38.0,263.1 39.0,263.1 39.0,262.2 40.0,262.2 40.0,264.0 41.0,264.0 41.0,263.4 42.0,263.4 42.0,264.0 43.0,264.0 43.0,261.7 44.0,261.7 44.0,261.9 45.0,261.9 45.0,261.5 46.0,261.5 46.0,262.4 47.0,262.4 47.0,263.8 48.0,263.8 48.0,263.4 49.0,263.4 49.0,262.9 50.0,262.9 50.0,263.0 51.0,263.0 51.0,263.0 52.0,263.0 52.0,262.6 53.0,262.6 53.0,263.2 54.0,263.2 54.0,262.9 55.0,262.9 55.0,261.2 56.0,261.2 56.0,261.9 57.0,261.9 57.0,263.8 58.0,263.8 58.0,262.5 59.0,262.5 59.0,262.7 60.0,262.7 60.0,262.3 61.0,262.3 61.0,262.4 62.0,262.4 62.0,262.1 63.0,262.1 63.0,262.5 64.0,262.5 64.0,261.1 65.0,261.1 65.0,260.3 66.0,260.3 66.0,262.2 67.0,262.2 67.0,261.2 68.0,261.2 68.0,261.3 69.0,261.3 69.0,263.2 70.0,263.2 70.0,263.1 71.0,263.1 71.0,261.1 72.0,261.1 72.0,263.2 73.0,263.2 73.0,263.0 74.0,263.0 74.0,262.1 75.0,262.1 75.0,263.3 76.0,263.3 76.0,261.6 77.0,261.6 77.0,262.0 78.0,262.0 78.0,261.9 79.0,261.9 79.0,262.2 80.0,262.2 80.0,263.8 81.0,263.8 81.0,262.2 82.0,262.2 82.0,262.4 83.0,262.4 83.0,262.7 84.0,262.7 84.0,263.6 85.0,263.6 85.0,261.7 86.0,261.7 86.0,263.3 87.0,263.3 87.0,263.1 88.0,263.1 88.0,262.8 89.0,262.8 89.0,263.4 90.0,263.4 90.0,263.2 91.0,263.2 91.0,263.3 92.0,263.3 92.0,264.2 93.0,264.2 93.0,265.0 94.0,265.0 94.0,263.5 95.0,263.5 95.0,263.8 96.0,263.8 96.0,264.7 97.0,264.7 97.0,263.1 98.0,263.1 98.0,262.8 99.0,262.8 99.0,262.5 100.0,262.5 100.0,263.5 101.0,263.5 101.0,263.5 102.0,263.5 102.0,262.9 103.0,262.9 103.0,262.9 104.0,262.9 104.0,263.7 105.0,263.7 105.0,263.3 106.0,263.3 106.0,261.4 107.0,261.4 107.0,261.9 108.0,261.9 108.0,262.3 109.0,262.3 109.0,260.7 110.0,260.7 110.0,261.9 111.0,261.9 111.0,261.4 112.0,261.4 112.0,261.4 113.0,261.4 113.0,259.3 114.0,259.3 114.0,261.7 115.0,261.7 115.0,261.3 116.0,261.3 116.0,262.2 117.0,262.2 117.0,261.1 118.0,261.1 118.0,261.6 119.0,261.6 119.0,261.3 120.0,261.3 120.0,261.3 121.0,261.3 121.0,262.7 122.0,262.7 122.0,261.9 123.0,261.9 123.0,262.6 124.0,262.6 124.0,261.5 125.0,261.5 125.0,262.5 126.0,262.5 126.0,261.2 127.0,261.2 127.0,262.2 128.0,262.2 128.0,262.2 129.0,262.2 129.0,263.1 130.0,263.1 130.0,262.9 131.0,262.9 131.0,262.7 132.0,262.7 132.0,263.5 133.0,263.5 133.0,263.1 134.0,263.1 134.0,263.4 135.0,263.4 135.0,263.5 136.0,263.5 136.0,262.8 137.0,262.8 137.0,261.9 138.0,261.9 138.0,263.0 139.0,263.0 139.0,262.4 140.0,262.4 140.0,263.0 141.0,263.0 141.0,263.0 142.0,263.0 142.0,263.2 143.0,263.2 143.0,262.2 144.0,262.2 144.0,259.6 145.0,259.6 145.0,262.4 146.0,262.4 146.0,262.3 147.0,262.3 147.0,263.2 148.0,263.2 148.0,262.0 149.0,262.0 149.0,262.1 150.0,262.1 150.0,262.7 151.0,262.7 151.0,261.8 152.0,261.8 152.0,262.0 153.0,262.0 153.0,263.3 154.0,263.3 154.0,263.1 155.0,263.1 155.0,262.4 156.0,262.4 156.0,262.2 157.0,262.2 157.0,261.3 158.0,261.3 158.0,260.9 159.0,260.9 159.0,260.6 160.0,260.6 160.0,262.2 161.0,262.2 161.0,261.7 162.0,261.7 162.0,262.1 163.0,262.1 163.0,262.0 164.0,262.0 164.0,262.4 165.0,262.4 165.0,263.2 166.0,263.2 166.0,262.5 167.0,262.5 167.0,261.0 168.0,261.0 168.0,261.5 169.0,261.5 169.0,259.3 170.0,259.3 170.0,261.2 171.0,261.2 171.0,261.1 172.0,261.1 172.0,262.6 173.0,262.6 173.0,261.9 174.0,261.9 174.0,262.6 175.0,262.6 175.0,261.8 176.0,261.8 176.0,261.3 177.0,261.3 177.0,261.2 178.0,261.2 178.0,261.7 179.0,261.7 179.0,263.4 180.0,263.4 180.0,261.4 181.0,261.4 181.0,263.3 182.0,263.3 182.0,263.4 183.0,263.4 183.0,262.2 184.0,262.2 184.0,262.3 185.0,262.3 185.0,261.9 186.0,261.9 186.0,262.4 187.0,262.4 187.0,262.9 188.0,262.9 188.0,262.4 189.0,262.4 189.0,263.1 190.0,263.1 190.0,263.3 191.0,263.3 191.0,262.6 192.0,262.6 192.0,262.6 193.0,262.6 193.0,262.3 194.0,262.3 194.0,262.6 195.0,262.6 195.0,261.5 196.0,261.5 196.0,262.7 197.0,262.7 197.0,261.1 198.0,261.1 198.0,261.9 199.0,261.9 199.0,264.2 200.0,264.2 200.0,261.9 201.0,261.9 201.0,262.0 202.0,262.0 202.0,262.9 203.0,262.9 203.0,261.3 204.0,261.3 204.0,261.5 205.0,261.5 205.0,261.7 206.0,261.7 206.0,262.2 207.0,262.2 207.0,262.8 208.0,262.8 208.0,263.2 209.0,263.2 209.0,263.8 210.0,263.8 210.0,263.7 211.0,263.7 211.0,264.0 212.0,264.0 212.0,263.6 213.0,263.6 213.0,262.9 214.0,262.9 214.0,264.1 215.0,264.1 215.0,262.9 216.0,262.9 216.0,262.9 217.0,262.9 217.0,264.4 218.0,264.4 218.0,263.8 219.0,263.8 219.0,263.3 220.0,263.3 220.0,263.6 221.0,263.6 221.0,263.6 222.0,263.6 222.0,261.8 223.0,261.8 223.0,262.7 224.0,262.7 224.0,261.8 225.0,261.8 225.0,262.7 226.0,262.7 226.0,262.0 227.0,262.0 227.0,263.4 228.0,263.4 228.0,262.7 229.0,262.7 229.0,261.6 230.0,261.6 230.0,262.1 231.0,262.1 231.0,261.1 232.0,261.1 232.0,262.0 233.0,262.0 233.0,262.3 234.0,262.3 234.0,262.0 235.0,262.0 235.0,260.3 236.0,260.3 236.0,261.4 237.0,261.4 237.0,262.0 238.0,262.0 238.0,261.8 239.0,261.8 239.0,262.5 240.0,262.5 240.0,260.6 241.0,260.6 241.0,260.5 242.0,260.5 242.0,261.1 243.0,261.1 243.0,261.8 244.0,261.8 244.0,261.9 245.0,261.9 245.0,262.2 246.0,262.2 246.0,261.2 247.0,261.2 247.0,261.8 248.0,261.8 248.0,260.8 249.0,260.8 249.0,260.6 250.0,260.6 250.0,262.1 251.0,262.1 251.0,261.7 252.0,261.7 252.0,260.5 253.0,260.5 253.0,261.1 254.0,261.1 254.0,261.7 255.0,261.7 255.0,262.9 256.0,262.9 256.0,262.5 257.0,262.5 257.0,262.3 258.0,262.3 258.0,260.4 259.0,260.4 259.0,261.6 260.0,261.6 260.0,262.0 261.0,262.0 261.0,261.9 262.0,261.9 262.0,261.8 263.0,261.8 263.0,261.3 264.0,261.3 264.0,262.8 265.0,262.8 265.0,262.5 266.0,262.5 266.0,261.3 267.0,261.3 267.0,260.6 268.0,260.6 268.0,262.3 269.0,262.3 269.0,260.0 270.0,260.0 270.0,260.6 271.0,260.6 271.0,262.6 272.0,262.6 272.0,260.4 273.0,260.4 273.0,261.2 274.0,261.2 274.0,258.7 275.0,258.7 275.0,261.3 276.0,261.3 276.0,261.1 277.0,261.1 277.0,262.3 278.0,262.3 278.0,261.3 279.0,261.3 279.0,260.9 280.0,260.9 280.0,261.8 281.0,261.8 281.0,260.8 282.0,260.8 282.0,260.8 283.0,260.8 283.0,262.8 284.0,262.8 284.0,260.6 285.0,260.6 285.0,260.9 286.0,260.9 286.0,261.3 287.0,261.3 287.0,260.5 288.0,260.5 288.0,259.8 289.0,259.8 289.0,262.2 290.0,262.2 290.0,260.9 291.0,260.9 291.0,261.1 292.0,261.1 292.0,261.3 293.0,261.3 293.0,260.9 294.0,260.9 294.0,260.9 295.0,260.9 295.0,261.1 296.0,261.1 296.0,263.6 297.0,263.6 297.0,262.4 298.0,262.4 298.0,262.5 299.0,262.5 299.0,260.7 300.0,260.7 300.0,261.8 301.0,261.8 301.0,260.9 302.0,260.9 302.0,262.3 303.0,262.3 303.0,261.5 304.0,261.5 304.0,261.6 305.0,261.6 305.0,261.5 306.0,261.5 306.0,261.0 307.0,261.0 307.0,260.3 308.0,260.3 308.0,261.8 309.0,261.8 309.0,259.9 310.0,259.9 310.0,260.3 311.0,260.3 311.0,260.9 312.0,260.9 312.0,260.6 313.0,260.6 313.0,261.2 314.0,261.2 314.0,261.4 315.0,261.4 315.0,261.1 316.0,261.1 316.0,261.0 317.0,261.0 317.0,260.8 318.0,260.8 318.0,261.3 319.0,261.3 318.8,257.8 319.8,257.8 319.3,281.4" fill="#9f00c9"/>
<polygon points="430.3,281.4 429.8,264.8 430.8,264.8 430.8,262.9 431.8,262.9 431.8,261.1 432.8,261.1 432.8,261.8 433.8,261.8 433.8,262.7 434.8,262.7 434.8,262.6 435.8,262.6 435.8,262.3 436.8,262.3 436.8,261.5 437.8,261.5 437.8,263.2 438.8,263.2 438.8,261.5 439.8,261.5 439.8,262.5 440.8,262.5 440.8,261.3 441.8,261.3 441.8,261.0 442.8,261.0 442.8,262.9 443.8,262.9 443.8,259.9 444.8,259.9 444.8,259.9 445.8,259.9 445.8,262.1 446.8,262.1 446.8,261.5 447.8,261.5 447.8,262.4 448.8,262.4 448.8,261.7 449.8,261.7 449.8,259.5 450.8,259.5 450.8,263.4 451.8,263.4 451.8,261.6 452.8,261.6 452.8,261.7 453.8,261.7 453.8,260.9 454.8,260.9 454.8,259.3 455.8,259.3 455.8,262.2 456.8,262.2 456.8,262.1 457.8,262.1 457.8,261.7 458.8,261.7 458.8,261.1 459.8,261.1 459.8,262.1 460.8,262.1 460.8,260.3 461.8,260.3 461.8,261.3 462.8,261.3 462.8,261.4 463.8,261.4 463.8,260.9 464.8,260.9 464.8,261.6 465.8,261.6 465.8,261.0 466.8,261.0 466.8,260.9 467.8,260.9 467.8,262.8 468.8,262.8 468.8,262.0 469.8,262.0 469.8,262.3 470.8,262.3 470.8,261.4 471.8,261.4 471.8,262.1 472.8,262.1 472.8,261.9 473.8,261.9 473.8,262.3 474.8,262.3 474.8,263.2 475.8,263.2 475.8,261.3 476.8,261.3 476.8,261.6 477.8,261.6 477.8,261.4 478.8,261.4 478.8,258.9 479.8,258.9 479.8,260.5 480.8,260.5 480.8,260.5 481.8,260.5 481.8,262.0 482.8,262.0 482.8,261.1 483.8,261.1 483.8,262.5 484.8,262.5 484.8,260.9 485.8,260.9 485.8,261.3 486.8,261.3 486.8,262.7 487.8,262.7 487.8,263.0 488.8,263.0 488.8,262.0 489.8,262.0 489.8,261.0 490.8,261.0 490.8,262.8 491.8,262.8 491.8,261.6 492.8,261.6 492.8,261.5 493.8,261.5 493.8,260.2 494.8,260.2 494.8,260.1 495.8,260.1 495.8,262.7 496.8,262.7 496.8,262.5 497.8,262.5 497.8,262.9 498.8,262.9 498.8,262.5 499.8,262.5 499.8,261.5 500.8,261.5 500.8,262.0 501.8,262.0 501.8,262.8 502.8,262.8 502.8,261.9 503.8,261.9 503.8,264.5 504.8,264.5 504.8,262.1 505.8,262.1 505.8,261.9 506.8,261.9 506.8,263.3 507.8,263.3 507.8,263.0 508.8,263.0 508.8,260.7 509.8,260.7 509.8,262.4 510.8,262.4 510.8,262.9 511.8,262.9 511.8,263.3 512.8,263.3 512.8,263.3 513.8,263.3 513.8,261.7 514.8,261.7 514.8,263.1 515.8,263.1 515.8,263.4 516.8,263.4 516.8,261.7 517.8,261.7 517.8,260.4 518.8,260.4 518.8,262.0 519.8,262.0 519.8,262.1 520.8,262.1 520.8,262.5 521.8,262.5 521.8,262.8 522.8,262.8 522.8,262.2 523.8,262.2 523.8,263.1 524.8,263.1 524.8,262.5 525.8,262.5 525.8,261.0 526.8,261.0 526.8,263.9 527.8,263.9 527.8,262.1 528.8,262.1 528.8,261.1 529.8,261.1 529.8,263.7 530.8,263.7 530.8,262.8 531.8,262.8 531.8,260.9 532.8,260.9 532.8,262.7 533.8,262.7 533.8,262.1 534.8,262.1 534.8,262.2 535.8,262.2 535.5,263.2 536.5,263.2 536.0,281.4" fill="#9f00c9"/>
<rect x="432.20" y="273.4" width="0.8" height="8.0" fill="#fff" opacity="0.95"/>
<rect x="432.20" y="279.85" width="0.8" height="1.5" fill="#000"/>
<rect x="434.90" y="275.4" width="0.8" height="6.0" fill="#fff" opacity="0.95"/>
<rect x="434.90" y="279.85" width="0.8" height="1.5" fill="#000"/>
<rect x="456.10" y="269.9" width="1.0" height="11.5" fill="#fff" opacity="0.95"/>
<rect x="456.10" y="279.85" width="1.0" height="1.5" fill="#000"/>
<rect x="459.60" y="275.4" width="0.6" height="6.0" fill="#fff" opacity="0.8"/>
<rect x="464.60" y="277.4" width="0.6" height="4.0" fill="#fff" opacity="0.8"/>
<line x1="318.5" y1="260.5" x2="318.5" y2="281.4" stroke="#9f00c9" stroke-width="1.25"/>
<line x1="426.0" y1="260.5" x2="426.0" y2="269.3" stroke="#9f00c9" stroke-width="1.25"/>
<line x1="426.9" y1="260.5" x2="426.9" y2="273.7" stroke="#9f00c9" stroke-width="1.25"/>
<line x1="427.8" y1="260.5" x2="427.8" y2="268.7" stroke="#9f00c9" stroke-width="1.25"/>
<line x1="428.7" y1="260.5" x2="428.7" y2="279.5" stroke="#9f00c9" stroke-width="1.25"/>
<line x1="429.6" y1="260.5" x2="429.6" y2="280.8" stroke="#9f00c9" stroke-width="1.25"/>
<line x1="321.2" y1="259.9" x2="321.2" y2="270.6" stroke="#9f00c9" stroke-width="1.0"/>
<line x1="427.3" y1="260.0" x2="427.3" y2="269.3" stroke="#9f00c9" stroke-width="1.0"/>
<path d="M319.30,258.10 L319.50,259.83 L319.70,256.85 L319.90,254.03 L320.10,251.44 L320.30,251.53 L320.50,254.48 L320.70,256.77 L320.90,258.78 L321.10,259.93 L321.30,257.62 L321.50,258.65 L321.70,258.28 L321.90,259.56 L322.10,261.20 L322.30,260.32 L322.50,258.34 L322.70,259.23 L322.90,260.80 L323.10,258.94 L323.30,259.44 L323.50,259.89 L323.70,257.37 L323.90,260.32 L324.10,259.72 L324.30,259.86 L324.50,258.03 L324.70,258.13 L324.90,258.17 L325.10,258.86 L325.30,258.49 L325.50,258.36 L325.70,259.65 L325.90,258.97 L326.10,257.04 L326.30,256.92 L326.50,258.55 L326.70,256.80 L326.90,257.81 L327.10,257.73 L327.30,256.10 L327.50,256.09 L327.70,256.10 L327.90,255.34 L328.10,255.04 L328.30,255.04 L328.50,255.18 L328.70,254.01 L328.90,253.14 L329.10,251.48 L329.30,248.53 L329.50,243.14 L329.70,234.79 L329.90,229.59 L330.10,235.25 L330.30,244.05 L330.50,249.97 L330.70,253.65 L330.90,254.88 L331.10,256.73 L331.30,256.58 L331.50,258.54 L331.70,258.60 L331.90,259.05 L332.10,260.50 L332.30,259.67 L332.50,260.70 L332.70,259.92 L332.90,257.85 L333.10,259.39 L333.30,259.53 L333.50,257.36 L333.70,260.06 L333.90,258.59 L334.10,258.66 L334.30,257.28 L334.50,257.91 L334.70,257.84 L334.90,257.07 L335.10,257.10 L335.30,255.28 L335.50,257.33 L335.70,255.46 L335.90,254.60 L336.10,255.01 L336.30,254.79 L336.50,255.12 L336.70,254.18 L336.90,254.35 L337.10,253.60 L337.30,254.34 L337.50,253.50 L337.70,253.58 L337.90,252.53 L338.10,252.66 L338.30,252.03 L338.50,252.04 L338.70,251.74 L338.90,251.08 L339.10,250.85 L339.30,250.54 L339.50,250.19 L339.70,249.94 L339.90,249.61 L340.10,249.26 L340.30,249.02 L340.50,248.71 L340.70,248.32 L340.90,248.02 L341.10,247.71 L341.30,247.36 L341.50,246.98 L341.70,246.55 L341.90,246.01 L342.10,245.29 L342.30,244.30 L342.50,242.80 L342.70,240.36 L342.90,236.13 L343.10,228.94 L343.30,220.69 L343.50,220.55 L343.70,228.52 L343.90,235.42 L344.10,239.37 L344.30,241.51 L344.50,242.72 L344.70,243.41 L344.90,243.81 L345.10,244.03 L345.30,244.14 L345.50,244.19 L345.70,244.19 L345.90,244.16 L346.10,244.10 L346.30,244.03 L346.50,243.95 L346.70,243.87 L346.90,243.77 L347.10,243.67 L347.30,243.57 L347.50,243.46 L347.70,243.35 L347.90,243.24 L348.10,243.12 L348.30,243.00 L348.50,242.87 L348.70,242.74 L348.90,242.61 L349.10,242.47 L349.30,242.33 L349.50,242.18 L349.70,242.02 L349.90,241.86 L350.10,241.69 L350.30,241.51 L350.50,241.32 L350.70,241.13 L350.90,240.92 L351.10,240.71 L351.30,240.50 L351.50,240.28 L351.70,240.05 L351.90,239.81 L352.10,239.58 L352.30,239.33 L352.50,239.09 L352.70,238.84 L352.90,238.59 L353.10,238.33 L353.30,238.08 L353.50,237.82 L353.70,237.56 L353.90,237.31 L354.10,237.05 L354.30,236.79 L354.50,236.54 L354.70,236.28 L354.90,236.03 L355.10,235.78 L355.30,235.54 L355.50,235.29 L355.70,235.05 L355.90,234.80 L356.10,234.54 L356.30,234.28 L356.50,234.01 L356.70,233.74 L356.90,233.47 L357.10,233.20 L357.30,232.92 L357.50,232.64 L357.70,232.37 L357.90,232.09 L358.10,231.82 L358.30,231.55 L358.50,231.29 L358.70,231.02 L358.90,230.77 L359.10,230.52 L359.30,230.28 L359.50,230.04 L359.70,229.82 L359.90,229.60 L360.10,229.40 L360.30,229.20 L360.50,229.02 L360.70,228.85 L360.90,228.70 L361.10,228.55 L361.30,228.40 L361.50,228.25 L361.70,228.10 L361.90,227.95 L362.10,227.80 L362.30,227.65 L362.50,227.50 L362.70,227.35 L362.90,227.21 L363.10,227.07 L363.30,226.93 L363.50,226.79 L363.70,226.66 L363.90,226.53 L364.10,226.40 L364.30,226.28 L364.50,226.16 L364.70,226.05 L364.90,225.94 L365.10,225.84 L365.30,225.74 L365.50,225.66 L365.70,225.57 L365.90,225.50 L366.10,225.43 L366.30,225.37 L366.50,225.32 L366.70,225.28 L366.90,225.24 L367.10,225.22 L367.30,225.20 L367.50,225.20 L367.70,225.20 L367.90,225.22 L368.10,225.24 L368.30,225.27 L368.50,225.31 L368.70,225.35 L368.90,225.40 L369.10,225.46 L369.30,225.53 L369.50,225.60 L369.70,225.68 L369.90,225.76 L370.10,225.85 L370.30,225.94 L370.50,226.04 L370.70,226.14 L370.90,226.25 L371.10,226.36 L371.30,226.48 L371.50,226.59 L371.70,226.71 L371.90,226.84 L372.10,226.96 L372.30,227.09 L372.50,227.22 L372.70,227.35 L372.90,227.48 L373.10,227.61 L373.30,227.74 L373.50,227.87 L373.70,228.00 L373.90,228.13 L374.10,228.26 L374.30,228.40 L374.50,228.56 L374.70,228.72 L374.90,228.89 L375.10,229.07 L375.30,229.26 L375.50,229.45 L375.70,229.66 L375.90,229.87 L376.10,230.08 L376.30,230.30 L376.50,230.53 L376.70,230.76 L376.90,231.00 L377.10,231.24 L377.30,231.48 L377.50,231.73 L377.70,231.97 L377.90,232.22 L378.10,232.47 L378.30,232.72 L378.50,232.97 L378.70,233.22 L378.90,233.47 L379.10,233.71 L379.30,233.95 L379.50,234.19 L379.70,234.43 L379.90,234.68 L380.10,234.93 L380.30,235.19 L380.50,235.45 L380.70,235.71 L380.90,235.98 L381.10,236.25 L381.30,236.52 L381.50,236.80 L381.70,237.07 L381.90,237.35 L382.10,237.63 L382.30,237.90 L382.50,238.18 L382.70,238.45 L382.90,238.73 L383.10,239.00 L383.30,239.27 L383.50,239.53 L383.70,239.79 L383.90,240.05 L384.10,240.30 L384.30,240.55 L384.50,240.80 L384.70,241.03 L384.90,241.26 L385.10,241.49 L385.30,241.70 L385.50,241.91 L385.70,242.12 L385.90,242.32 L386.10,242.52 L386.30,242.71 L386.50,242.89 L386.70,243.08 L386.90,243.26 L387.10,243.44 L387.30,243.61 L387.50,243.78 L387.70,243.94 L387.90,244.10 L388.10,244.25 L388.30,244.39 L388.50,244.51 L388.70,244.62 L388.90,244.69 L389.10,244.71 L389.30,244.65 L389.50,244.48 L389.70,244.13 L389.90,243.45 L390.10,242.22 L390.30,239.96 L390.50,235.73 L390.70,228.27 L390.90,219.62 L391.10,219.87 L391.30,229.02 L391.50,236.99 L391.70,241.72 L391.90,244.47 L392.10,246.19 L392.30,247.38 L392.50,248.24 L392.70,248.92 L392.90,249.30 L393.10,249.76 L393.30,250.27 L393.50,250.41 L393.70,250.76 L393.90,250.90 L394.10,251.72 L394.30,251.90 L394.50,252.07 L394.70,252.30 L394.90,252.42 L395.10,252.67 L395.30,253.19 L395.50,253.07 L395.70,253.90 L395.90,253.60 L396.10,253.68 L396.30,254.72 L396.50,254.40 L396.70,254.91 L396.90,254.70 L397.10,254.03 L397.30,255.57 L397.50,254.79 L397.70,256.27 L397.90,254.97 L398.10,254.92 L398.30,256.39 L398.50,256.65 L398.70,256.63 L398.90,255.90 L399.10,257.56 L399.30,256.01 L399.50,256.91 L399.70,256.80 L399.90,257.27 L400.10,258.43 L400.30,257.28 L400.50,258.42 L400.70,258.62 L400.90,256.51 L401.10,257.02 L401.30,257.71 L401.50,257.47 L401.70,258.15 L401.90,256.08 L402.10,258.04 L402.30,257.68 L402.50,256.54 L402.70,255.18 L402.90,255.04 L403.10,253.39 L403.30,251.21 L403.50,246.91 L403.70,239.76 L403.90,231.53 L404.10,231.36 L404.30,239.26 L404.50,246.10 L404.70,250.06 L404.90,251.85 L405.10,253.59 L405.30,253.65 L405.50,254.59 L405.70,254.45 L405.90,254.88 L406.10,255.35 L406.30,255.34 L406.50,255.29 L406.70,256.71 L406.90,255.63 L407.10,255.14 L407.30,256.22 L407.50,256.20 L407.70,256.45 L407.90,256.79 L408.10,255.28 L408.30,256.43 L408.50,256.49 L408.70,255.86 L408.90,256.01 L409.10,254.16 L409.30,255.56 L409.50,256.93 L409.70,254.88 L409.90,255.61 L410.10,256.09 L410.30,256.26 L410.50,256.87 L410.70,254.91 L410.90,255.95 L411.10,256.41 L411.30,255.14 L411.50,255.85 L411.70,256.90 L411.90,256.51 L412.10,255.98 L412.30,254.17 L412.50,255.29 L412.70,255.23 L412.90,254.44 L413.10,253.78 L413.30,253.09 L413.50,249.87 L413.70,245.99 L413.90,243.59 L414.10,246.33 L414.30,250.53 L414.50,253.38 L414.70,255.44 L414.90,256.24 L415.10,255.94 L415.30,257.15 L415.50,257.98 L415.70,257.44 L415.90,259.05 L416.10,258.85 L416.30,257.30 L416.50,258.61 L416.70,260.27 L416.90,259.93 L417.10,258.42 L417.30,259.40 L417.50,257.88 L417.70,257.14 L417.90,259.17 L418.10,258.89 L418.30,259.19 L418.50,258.67 L418.70,259.05 L418.90,258.21 L419.10,259.23 L419.30,259.61 L419.50,258.70 L419.70,259.60 L419.90,256.94 L420.10,257.94 L420.30,260.19 L420.50,260.44 L420.70,258.81 L420.90,258.30 L421.10,256.94 L421.30,257.79 L421.50,256.76 L421.70,253.39 L421.90,252.10 L422.10,254.11 L422.30,256.63 L422.50,256.67 L422.70,258.73 L422.90,257.08 L423.10,260.31 L423.30,259.05 L423.50,257.75 L423.70,260.54 L423.90,260.40 L424.10,258.46 L424.30,261.69 L424.50,258.14 L424.70,259.66 L424.90,260.70 L425.10,256.77 L425.30,260.59 L425.50,259.39 L425.70,259.50 L425.90,258.29 L426.10,260.02 L426.30,258.33 L426.50,258.55 L426.70,259.24 L426.90,258.33 L427.10,261.90 L427.30,258.29 L427.50,259.08 L427.70,259.71 L427.90,260.19 L428.10,261.31 L428.30,261.43 L428.50,259.98 L428.70,259.94 L428.90,260.58 L429.10,261.76 L429.30,261.67 L429.50,260.00 L429.70,257.81 L429.90,264.02 L430.10,262.35 L430.30,261.39" stroke="#9f00c9" stroke-width="1.35" fill="none" stroke-linejoin="round"/>
<rect x="420.7" y="217.9" width="32" height="29.5" fill="#474747"/>
<g filter="url(#soft)"><ellipse cx="436.3" cy="232.2" rx="10.9" ry="9.8" fill="url(#beamB)" transform="rotate(25 436.3 232.2)"/>
<circle cx="441.5" cy="230.7" r="1.3" fill="#ffb000" opacity="0.5"/>
</g>
<polygon points="31.6,349.6 31.1,331.1 32.0,331.1 32.0,331.9 33.0,331.9 33.0,331.1 34.0,331.1 34.0,330.2 35.0,330.2 35.0,331.3 36.0,331.3 36.0,331.1 37.0,331.1 37.0,331.8 38.0,331.8 38.0,330.9 39.0,330.9 39.0,330.9 40.0,330.9 40.0,330.3 41.0,330.3 41.0,332.0 42.0,332.0 42.0,331.7 43.0,331.7 43.0,330.8 44.0,330.8 44.0,331.4 45.0,331.4 45.0,331.6 46.0,331.6 46.0,330.1 47.0,330.1 47.0,331.3 48.0,331.3 48.0,331.0 49.0,331.0 49.0,331.0 50.0,331.0 50.0,332.7 51.0,332.7 51.0,330.6 52.0,330.6 52.0,330.7 53.0,330.7 53.0,330.6 54.0,330.6 54.0,330.8 55.0,330.8 55.0,331.0 56.0,331.0 56.0,329.9 57.0,329.9 57.0,329.3 58.0,329.3 58.0,331.0 59.0,331.0 59.0,329.5 60.0,329.5 60.0,330.9 61.0,330.9 61.0,330.8 62.0,330.8 62.0,331.6 63.0,331.6 63.0,330.1 64.0,330.1 64.0,330.9 65.0,330.9 65.0,330.2 66.0,330.2 66.0,327.6 67.0,327.6 67.0,330.0 68.0,330.0 68.0,328.6 69.0,328.6 69.0,329.0 70.0,329.0 70.0,330.6 71.0,330.6 71.0,330.5 72.0,330.5 72.0,329.2 73.0,329.2 73.0,330.3 74.0,330.3 74.0,330.6 75.0,330.6 75.0,330.0 76.0,330.0 76.0,330.2 77.0,330.2 77.0,329.2 78.0,329.2 78.0,330.7 79.0,330.7 79.0,331.8 80.0,331.8 80.0,330.7 81.0,330.7 81.0,330.9 82.0,330.9 82.0,329.9 83.0,329.9 83.0,331.8 84.0,331.8 84.0,330.1 85.0,330.1 85.0,331.3 86.0,331.3 86.0,330.8 87.0,330.8 87.0,330.1 88.0,330.1 88.0,331.6 89.0,331.6 89.0,330.8 90.0,330.8 90.0,331.0 91.0,331.0 91.0,331.2 92.0,331.2 92.0,330.9 93.0,330.9 93.0,329.7 94.0,329.7 94.0,329.2 95.0,329.2 95.0,330.6 96.0,330.6 96.0,331.0 97.0,331.0 97.0,330.5 98.0,330.5 98.0,329.9 99.0,329.9 99.0,330.5 100.0,330.5 100.0,329.4 101.0,329.4 101.0,331.0 102.0,331.0 102.0,331.9 103.0,331.9 103.0,329.7 104.0,329.7 104.0,331.1 105.0,331.1 105.0,329.3 106.0,329.3 106.0,330.2 107.0,330.2 107.0,330.6 108.0,330.6 108.0,329.3 109.0,329.3 109.0,329.1 110.0,329.1 110.0,331.1 111.0,331.1 111.0,331.1 112.0,331.1 112.0,330.9 113.0,330.9 113.0,330.4 114.0,330.4 114.0,332.6 115.0,332.6 115.0,330.9 116.0,330.9 116.0,330.4 117.0,330.4 117.0,332.3 118.0,332.3 118.0,331.5 119.0,331.5 119.0,330.7 120.0,330.7 120.0,331.9 121.0,331.9 121.0,331.1 122.0,331.1 122.0,331.5 123.0,331.5 123.0,331.1 124.0,331.1 124.0,330.2 125.0,330.2 125.0,331.7 126.0,331.7 126.0,331.1 127.0,331.1 127.0,329.0 128.0,329.0 128.0,330.3 129.0,330.3 129.0,331.6 130.0,331.6 130.0,330.6 131.0,330.6 131.0,330.9 132.0,330.9 132.0,331.3 133.0,331.3 133.0,330.9 134.0,330.9 134.0,329.7 135.0,329.7 135.0,331.3 136.0,331.3 136.0,329.6 137.0,329.6 137.0,331.4 138.0,331.4 138.0,332.0 139.0,332.0 139.0,331.0 140.0,331.0 140.0,331.3 141.0,331.3 141.0,331.9 142.0,331.9 142.0,330.5 143.0,330.5 143.0,332.0 144.0,332.0 144.0,331.9 145.0,331.9 145.0,331.2 146.0,331.2 146.0,332.0 147.0,332.0 147.0,331.2 148.0,331.2 148.0,329.9 149.0,329.9 149.0,331.3 150.0,331.3 150.0,330.7 151.0,330.7 151.0,330.8 152.0,330.8 152.0,330.5 153.0,330.5 153.0,331.4 154.0,331.4 154.0,330.8 155.0,330.8 155.0,329.8 156.0,329.8 156.0,330.7 157.0,330.7 157.0,330.8 158.0,330.8 158.0,329.7 159.0,329.7 159.0,329.9 160.0,329.9 160.0,329.9 161.0,329.9 161.0,329.7 162.0,329.7 162.0,330.5 163.0,330.5 163.0,331.0 164.0,331.0 164.0,331.7 165.0,331.7 165.0,331.2 166.0,331.2 166.0,329.6 167.0,329.6 167.0,329.4 168.0,329.4 168.0,331.4 169.0,331.4 169.0,330.1 170.0,330.1 170.0,331.0 171.0,331.0 171.0,330.8 172.0,330.8 172.0,328.4 173.0,328.4 173.0,330.3 174.0,330.3 174.0,330.3 175.0,330.3 175.0,330.5 176.0,330.5 176.0,327.8 177.0,327.8 177.0,331.2 178.0,331.2 178.0,329.7 179.0,329.7 179.0,330.9 180.0,330.9 180.0,331.1 181.0,331.1 181.0,331.5 182.0,331.5 182.0,330.5 183.0,330.5 183.0,330.9 184.0,330.9 184.0,329.8 185.0,329.8 185.0,329.4 186.0,329.4 186.0,329.6 187.0,329.6 187.0,332.3 188.0,332.3 188.0,329.8 189.0,329.8 189.0,331.5 190.0,331.5 190.0,332.3 191.0,332.3 191.0,330.9 192.0,330.9 192.0,332.5 193.0,332.5 193.0,332.7 194.0,332.7 194.0,332.0 195.0,332.0 195.0,333.1 196.0,333.1 196.0,331.8 197.0,331.8 197.0,330.9 198.0,330.9 198.0,331.8 199.0,331.8 199.0,329.1 200.0,329.1 200.0,330.5 201.0,330.5 201.0,330.2 202.0,330.2 202.0,333.3 203.0,333.3 203.0,330.4 204.0,330.4 204.0,331.6 205.0,331.6 205.0,331.1 206.0,331.1 206.0,331.3 207.0,331.3 207.0,331.3 208.0,331.3 208.0,331.2 209.0,331.2 209.0,330.5 210.0,330.5 210.0,330.3 211.0,330.3 211.0,330.8 212.0,330.8 212.0,331.6 213.0,331.6 213.0,332.9 214.0,332.9 214.0,332.1 215.0,332.1 215.0,332.6 216.0,332.6 216.0,331.6 217.0,331.6 217.0,331.1 218.0,331.1 218.0,330.1 219.0,330.1 219.0,331.1 220.0,331.1 220.0,329.4 221.0,329.4 221.0,330.8 222.0,330.8 222.0,332.2 223.0,332.2 223.0,331.2 224.0,331.2 224.0,331.8 225.0,331.8 225.0,330.6 226.0,330.6 226.0,329.8 227.0,329.8 227.0,330.5 228.0,330.5 228.0,330.6 229.0,330.6 229.0,331.8 230.0,331.8 230.0,332.4 231.0,332.4 231.0,330.4 232.0,330.4 232.0,330.7 233.0,330.7 233.0,330.9 234.0,330.9 234.0,330.7 235.0,330.7 235.0,330.1 236.0,330.1 236.0,331.1 237.0,331.1 237.0,331.3 238.0,331.3 238.0,331.4 239.0,331.4 239.0,330.2 240.0,330.2 240.0,329.5 241.0,329.5 241.0,329.8 242.0,329.8 242.0,331.8 243.0,331.8 243.0,330.4 244.0,330.4 244.0,331.0 245.0,331.0 245.0,330.9 246.0,330.9 246.0,330.8 247.0,330.8 247.0,330.4 248.0,330.4 248.0,329.8 249.0,329.8 249.0,332.4 250.0,332.4 250.0,331.2 251.0,331.2 251.0,331.2 252.0,331.2 252.0,332.5 253.0,332.5 253.0,330.8 254.0,330.8 254.0,331.2 255.0,331.2 255.0,330.7 256.0,330.7 256.0,331.5 257.0,331.5 257.0,330.9 258.0,330.9 258.0,330.7 259.0,330.7 259.0,330.2 260.0,330.2 260.0,330.6 261.0,330.6 261.0,331.2 262.0,331.2 262.0,328.7 263.0,328.7 263.0,330.1 264.0,330.1 264.0,329.8 265.0,329.8 265.0,329.8 266.0,329.8 266.0,328.5 267.0,328.5 267.0,330.4 268.0,330.4 268.0,329.2 269.0,329.2 269.0,329.6 270.0,329.6 270.0,329.4 271.0,329.4 271.0,328.6 272.0,328.6 272.0,329.6 273.0,329.6 273.0,328.6 274.0,328.6 274.0,327.3 275.0,327.3 275.0,329.9 276.0,329.9 276.0,330.2 277.0,330.2 277.0,330.3 278.0,330.3 278.0,330.2 279.0,330.2 279.0,329.9 280.0,329.9 280.0,330.7 281.0,330.7 281.0,329.4 282.0,329.4 282.0,330.1 283.0,330.1 283.0,330.1 284.0,330.1 284.0,330.5 285.0,330.5 285.0,330.3 286.0,330.3 286.0,330.1 287.0,330.1 287.0,330.4 288.0,330.4 288.0,330.9 289.0,330.9 289.0,330.7 290.0,330.7 290.0,330.8 291.0,330.8 291.0,330.9 292.0,330.9 292.0,332.1 293.0,332.1 293.0,331.4 294.0,331.4 294.0,331.9 295.0,331.9 295.0,328.7 296.0,328.7 296.0,331.3 297.0,331.3 297.0,331.9 298.0,331.9 298.0,332.5 299.0,332.5 299.0,331.1 300.0,331.1 300.0,329.8 301.0,329.8 301.0,331.5 302.0,331.5 302.0,330.6 303.0,330.6 303.0,328.5 304.0,328.5 304.0,330.6 305.0,330.6 305.0,331.9 306.0,331.9 306.0,332.0 307.0,332.0 307.0,331.6 308.0,331.6 308.0,330.3 309.0,330.3 309.0,332.5 310.0,332.5 310.0,330.2 311.0,330.2 311.0,331.0 312.0,331.0 312.0,330.0 313.0,330.0 313.0,332.0 314.0,332.0 314.0,331.3 315.0,331.3 315.0,331.6 316.0,331.6 316.0,331.0 317.0,331.0 317.0,330.8 318.0,330.8 318.0,331.0 319.0,331.0 319.0,329.4 320.0,329.4 320.0,329.6 321.0,329.6 321.0,331.4 322.0,331.4 322.0,330.4 323.0,330.4 323.0,330.7 324.0,330.7 324.0,330.9 325.0,330.9 325.0,331.8 326.0,331.8 326.0,330.9 327.0,330.9 327.0,330.5 328.0,330.5 328.0,330.1 329.0,330.1 329.0,329.3 330.0,329.3 330.0,330.0 331.0,330.0 331.0,330.4 332.0,330.4 332.0,329.0 333.0,329.0 333.0,330.3 334.0,330.3 334.0,330.8 335.0,330.8 335.0,330.6 336.0,330.6 336.0,330.4 337.0,330.4 337.0,330.7 338.0,330.7 338.0,330.3 339.0,330.3 339.0,330.1 340.0,330.1 340.0,330.5 341.0,330.5 341.0,328.8 342.0,328.8 342.0,331.0 343.0,331.0 343.0,329.1 344.0,329.1 344.0,330.7 345.0,330.7 345.0,329.9 346.0,329.9 346.0,330.8 347.0,330.8 347.0,330.0 348.0,330.0 348.0,329.3 349.0,329.3 349.0,330.8 350.0,330.8 350.0,330.1 351.0,330.1 351.0,330.0 352.0,330.0 352.0,329.9 353.0,329.9 353.0,330.6 354.0,330.6 354.0,330.5 355.0,330.5 355.0,330.0 356.0,330.0 356.0,328.7 357.0,328.7 357.0,329.6 358.0,329.6 358.0,329.2 359.0,329.2 359.0,331.4 360.0,331.4 360.0,330.4 361.0,330.4 361.0,328.6 362.0,328.6 362.0,331.1 363.0,331.1 363.0,330.2 364.0,330.2 364.0,330.3 365.0,330.3 365.0,330.5 366.0,330.5 366.0,329.3 367.0,329.3 367.0,331.2 368.0,331.2 368.0,330.9 369.0,330.9 369.0,330.4 370.0,330.4 370.0,328.0 371.0,328.0 371.0,330.9 372.0,330.9 372.0,331.9 373.0,331.9 373.0,330.0 374.0,330.0 374.0,330.2 375.0,330.2 375.0,331.3 376.0,331.3 376.0,329.9 377.0,329.9 377.0,329.5 378.0,329.5 378.0,330.7 379.0,330.7 379.0,330.5 380.0,330.5 380.0,330.8 381.0,330.8 381.0,330.5 382.0,330.5 382.0,331.1 383.0,331.1 383.0,330.6 384.0,330.6 384.0,329.0 385.0,329.0 385.0,330.4 386.0,330.4 386.0,331.1 387.0,331.1 387.0,331.3 388.0,331.3 388.0,331.2 389.0,331.2 389.0,331.0 390.0,331.0 390.0,328.0 391.0,328.0 391.0,329.4 392.0,329.4 392.0,330.1 393.0,330.1 393.0,330.4 394.0,330.4 394.0,329.0 395.0,329.0 395.0,331.2 396.0,331.2 396.0,330.3 397.0,330.3 397.0,329.6 398.0,329.6 398.0,330.1 399.0,330.1 399.0,329.7 400.0,329.7 400.0,329.4 401.0,329.4 401.0,330.3 402.0,330.3 402.0,329.6 403.0,329.6 403.0,328.9 404.0,328.9 404.0,329.5 405.0,329.5 405.0,330.0 406.0,330.0 406.0,329.2 407.0,329.2 407.0,331.0 408.0,331.0 408.0,329.3 409.0,329.3 409.0,331.4 410.0,331.4 410.0,330.8 411.0,330.8 411.0,329.4 412.0,329.4 412.0,328.2 413.0,328.2 413.0,331.0 414.0,331.0 414.0,330.0 415.0,330.0 415.0,329.3 416.0,329.3 416.0,330.3 417.0,330.3 417.0,331.7 418.0,331.7 418.0,329.0 419.0,329.0 419.0,330.6 420.0,330.6 420.0,330.2 421.0,330.2 420.3,330.1 421.3,330.1 420.8,349.6" fill="#9f00c9"/>
<polygon points="513.1,349.6 512.6,331.7 513.6,331.7 513.6,331.0 514.6,331.0 514.6,330.3 515.6,330.3 515.6,330.0 516.6,330.0 516.6,331.2 517.6,331.2 517.6,331.6 518.6,331.6 518.6,330.4 519.6,330.4 519.6,331.0 520.6,331.0 520.6,331.7 521.6,331.7 521.6,330.1 522.6,330.1 522.6,330.6 523.6,330.6 523.6,330.1 524.6,330.1 524.6,331.8 525.6,331.8 525.6,331.1 526.6,331.1 526.6,329.0 527.6,329.0 527.6,329.5 528.6,329.5 528.6,330.6 529.6,330.6 529.6,331.4 530.6,331.4 530.6,330.4 531.6,330.4 531.6,330.3 532.6,330.3 532.6,331.1 533.6,331.1 533.6,329.6 534.6,329.6 534.6,330.6 535.6,330.6 535.5,331.0 536.5,331.0 536.0,349.6" fill="#9f00c9"/>
<rect x="382.75" y="340.6" width="0.5" height="9.0" fill="#fff" opacity="0.8"/>
<rect x="384.25" y="341.6" width="0.5" height="8.0" fill="#fff" opacity="0.8"/>
<rect x="387.75" y="339.6" width="0.5" height="10.0" fill="#fff" opacity="0.8"/>
<rect x="389.25" y="341.6" width="0.5" height="8.0" fill="#fff" opacity="0.8"/>
<rect x="411.75" y="342.6" width="0.5" height="7.0" fill="#fff" opacity="0.8"/>
<rect x="412.95" y="339.1" width="0.9" height="10.5" fill="#fff" opacity="0.95"/>
<rect x="412.95" y="348.05" width="0.9" height="1.5" fill="#000"/>
<line x1="420.5" y1="329.3" x2="420.5" y2="345.1" stroke="#9f00c9" stroke-width="1.25"/>
<line x1="511.5" y1="329.3" x2="511.5" y2="335.7" stroke="#9f00c9" stroke-width="1.25"/>
<line x1="512.4" y1="329.3" x2="512.4" y2="343.9" stroke="#9f00c9" stroke-width="1.25"/>
<line x1="501.6" y1="329.6" x2="501.6" y2="349.5" stroke="#9f00c9" stroke-width="1.0"/>
<line x1="510.9" y1="330.2" x2="510.9" y2="349.5" stroke="#9f00c9" stroke-width="1.0"/>
<line x1="509.3" y1="328.9" x2="509.3" y2="337.4" stroke="#9f00c9" stroke-width="1.0"/>
<path d="M420.80,325.41 L421.00,325.66 L421.20,322.49 L421.40,318.62 L421.60,316.10 L421.80,318.50 L422.00,322.07 L422.20,324.24 L422.40,326.93 L422.60,325.96 L422.80,326.26 L423.00,325.64 L423.20,327.96 L423.40,327.22 L423.60,327.36 L423.80,327.00 L424.00,326.61 L424.20,325.92 L424.40,325.78 L424.60,326.59 L424.80,326.14 L425.00,327.03 L425.20,325.09 L425.40,325.07 L425.60,324.52 L425.80,325.77 L426.00,324.00 L426.20,324.89 L426.40,324.98 L426.60,323.95 L426.80,324.13 L427.00,322.66 L427.20,323.22 L427.40,322.53 L427.60,323.05 L427.80,322.82 L428.00,322.38 L428.20,322.79 L428.40,322.44 L428.60,322.03 L428.80,321.90 L429.00,321.49 L429.20,321.67 L429.40,322.05 L429.60,321.14 L429.80,321.02 L430.00,320.22 L430.20,319.21 L430.40,316.90 L430.60,312.64 L430.80,306.02 L431.00,301.95 L431.20,306.69 L431.40,313.98 L431.60,318.90 L431.80,321.54 L432.00,322.57 L432.20,324.60 L432.40,325.23 L432.60,325.05 L432.80,325.42 L433.00,326.03 L433.20,325.44 L433.40,326.14 L433.60,325.69 L433.80,324.07 L434.00,325.55 L434.20,325.10 L434.40,324.80 L434.60,325.42 L434.80,324.67 L435.00,325.07 L435.20,325.13 L435.40,324.36 L435.60,323.29 L435.80,323.46 L436.00,323.92 L436.20,323.17 L436.40,322.71 L436.60,322.71 L436.80,322.65 L437.00,322.30 L437.20,322.15 L437.40,321.52 L437.60,321.42 L437.80,321.21 L438.00,321.04 L438.20,320.43 L438.40,320.57 L438.60,320.17 L438.80,320.37 L439.00,320.14 L439.20,319.90 L439.40,319.55 L439.60,319.17 L439.80,319.06 L440.00,318.72 L440.20,318.53 L440.40,318.19 L440.60,317.96 L440.80,317.75 L441.00,317.53 L441.20,317.19 L441.40,316.96 L441.60,316.65 L441.80,316.24 L442.00,315.87 L442.20,315.41 L442.40,314.83 L442.60,314.06 L442.80,312.94 L443.00,311.22 L443.20,308.34 L443.40,303.31 L443.60,295.75 L443.80,290.90 L444.00,295.40 L444.20,302.62 L444.40,307.31 L444.60,309.84 L444.80,311.21 L445.00,311.96 L445.20,312.37 L445.40,312.58 L445.60,312.66 L445.80,312.66 L446.00,312.60 L446.20,312.50 L446.40,312.38 L446.60,312.23 L446.80,312.07 L447.00,311.90 L447.20,311.72 L447.40,311.53 L447.60,311.34 L447.80,311.14 L448.00,310.94 L448.20,310.74 L448.40,310.53 L448.60,310.31 L448.80,310.10 L449.00,309.88 L449.20,309.66 L449.40,309.44 L449.60,309.22 L449.80,308.99 L450.00,308.76 L450.20,308.54 L450.40,308.30 L450.60,308.07 L450.80,307.84 L451.00,307.60 L451.20,307.36 L451.40,307.12 L451.60,306.87 L451.80,306.61 L452.00,306.35 L452.20,306.08 L452.40,305.81 L452.60,305.53 L452.80,305.26 L453.00,304.98 L453.20,304.70 L453.40,304.42 L453.60,304.13 L453.80,303.85 L454.00,303.57 L454.20,303.29 L454.40,303.02 L454.60,302.74 L454.80,302.47 L455.00,302.20 L455.20,301.94 L455.40,301.69 L455.60,301.44 L455.80,301.19 L456.00,300.95 L456.20,300.72 L456.40,300.50 L456.60,300.29 L456.80,300.08 L457.00,299.86 L457.20,299.65 L457.40,299.43 L457.60,299.22 L457.80,299.01 L458.00,298.79 L458.20,298.58 L458.40,298.38 L458.60,298.17 L458.80,297.97 L459.00,297.77 L459.20,297.58 L459.40,297.39 L459.60,297.20 L459.80,297.02 L460.00,296.85 L460.20,296.68 L460.40,296.52 L460.60,296.36 L460.80,296.21 L461.00,296.07 L461.20,295.94 L461.40,295.81 L461.60,295.70 L461.80,295.59 L462.00,295.50 L462.20,295.41 L462.40,295.32 L462.60,295.23 L462.80,295.14 L463.00,295.05 L463.20,294.97 L463.40,294.88 L463.60,294.80 L463.80,294.72 L464.00,294.64 L464.20,294.57 L464.40,294.50 L464.60,294.44 L464.80,294.38 L465.00,294.32 L465.20,294.27 L465.40,294.23 L465.60,294.19 L465.80,294.16 L466.00,294.13 L466.20,294.11 L466.40,294.10 L466.60,294.10 L466.80,294.10 L467.00,294.12 L467.20,294.14 L467.40,294.16 L467.60,294.20 L467.80,294.24 L468.00,294.29 L468.20,294.35 L468.40,294.41 L468.60,294.47 L468.80,294.54 L469.00,294.62 L469.20,294.70 L469.40,294.79 L469.60,294.87 L469.80,294.97 L470.00,295.06 L470.20,295.16 L470.40,295.26 L470.60,295.36 L470.80,295.47 L471.00,295.57 L471.20,295.68 L471.40,295.78 L471.60,295.89 L471.80,296.00 L472.00,296.11 L472.20,296.23 L472.40,296.37 L472.60,296.51 L472.80,296.66 L473.00,296.82 L473.20,296.99 L473.40,297.17 L473.60,297.35 L473.80,297.54 L474.00,297.74 L474.20,297.94 L474.40,298.15 L474.60,298.37 L474.80,298.58 L475.00,298.81 L475.20,299.03 L475.40,299.26 L475.60,299.49 L475.80,299.73 L476.00,299.96 L476.20,300.20 L476.40,300.43 L476.60,300.67 L476.80,300.91 L477.00,301.15 L477.20,301.38 L477.40,301.62 L477.60,301.86 L477.80,302.10 L478.00,302.35 L478.20,302.61 L478.40,302.87 L478.60,303.14 L478.80,303.41 L479.00,303.69 L479.20,303.97 L479.40,304.25 L479.60,304.53 L479.80,304.82 L480.00,305.11 L480.20,305.41 L480.40,305.70 L480.60,305.99 L480.80,306.29 L481.00,306.59 L481.20,306.89 L481.40,307.18 L481.60,307.48 L481.80,307.78 L482.00,308.07 L482.20,308.37 L482.40,308.66 L482.60,308.95 L482.80,309.24 L483.00,309.53 L483.20,309.84 L483.40,310.15 L483.60,310.46 L483.80,310.78 L484.00,311.10 L484.20,311.42 L484.40,311.74 L484.60,312.06 L484.80,312.38 L485.00,312.70 L485.20,313.01 L485.40,313.32 L485.60,313.62 L485.80,313.91 L486.00,314.19 L486.20,314.47 L486.40,314.73 L486.60,314.98 L486.80,315.22 L487.00,315.44 L487.20,315.64 L487.40,315.83 L487.60,316.01 L487.80,316.18 L488.00,316.31 L488.20,316.48 L488.40,316.61 L488.60,316.70 L488.80,316.83 L489.00,316.93 L489.20,317.03 L489.40,317.10 L489.60,317.09 L489.80,317.07 L490.00,317.04 L490.20,316.77 L490.40,316.31 L490.60,315.42 L490.80,313.75 L491.00,310.63 L491.20,305.80 L491.40,302.80 L491.60,306.13 L491.80,311.29 L492.00,314.74 L492.20,316.75 L492.40,317.95 L492.60,318.74 L492.80,319.35 L493.00,319.66 L493.20,320.01 L493.40,320.58 L493.60,320.91 L493.80,320.90 L494.00,320.94 L494.20,322.06 L494.40,322.02 L494.60,322.07 L494.80,321.89 L495.00,322.24 L495.20,322.73 L495.40,322.53 L495.60,323.72 L495.80,323.39 L496.00,323.74 L496.20,323.33 L496.40,323.59 L496.60,323.86 L496.80,324.65 L497.00,324.59 L497.20,324.80 L497.40,325.42 L497.60,325.61 L497.80,326.75 L498.00,325.80 L498.20,325.41 L498.40,326.51 L498.60,328.16 L498.80,326.68 L499.00,327.62 L499.20,327.54 L499.40,328.74 L499.60,328.92 L499.80,327.86 L500.00,328.85 L500.20,330.67 L500.40,331.06 L500.60,330.90 L500.80,330.81 L501.00,329.07 L501.20,328.99 L501.40,330.75 L501.60,327.74 L501.80,329.19 L502.00,326.66 L502.20,328.51 L502.40,327.95 L502.60,327.17 L502.80,329.10 L503.00,327.29 L503.20,327.34 L503.40,326.93 L503.60,325.78 L503.80,325.97 L504.00,322.71 L504.20,319.21 L504.40,314.93 L504.60,314.81 L504.80,318.79 L505.00,322.19 L505.20,323.95 L505.40,325.40 L505.60,327.03 L505.80,326.12 L506.00,326.31 L506.20,326.22 L506.40,328.79 L506.60,328.07 L506.80,327.21 L507.00,327.38 L507.20,326.20 L507.40,326.78 L507.60,327.24 L507.80,327.31 L508.00,326.53 L508.20,326.78 L508.40,328.33 L508.60,328.35 L508.80,325.83 L509.00,328.59 L509.20,330.30 L509.40,328.12 L509.60,329.49 L509.80,327.36 L510.00,330.76 L510.20,328.10 L510.40,328.04 L510.60,329.52 L510.80,333.58 L511.00,329.28 L511.20,328.41 L511.40,331.02 L511.60,330.76 L511.80,332.93 L512.00,328.69 L512.20,328.28 L512.40,330.23 L512.60,331.32 L512.80,331.36 L513.00,332.51 L513.20,328.75" stroke="#9f00c9" stroke-width="1.35" fill="none" stroke-linejoin="round"/>
<rect x="501.7" y="282.7" width="32.3" height="29.5" fill="#474747"/>
<g filter="url(#soft)"><ellipse cx="517.7" cy="297.8" rx="10.4" ry="10.3" fill="url(#beamA)" transform="rotate(0 517.7 297.8)"/>
</g>
<line x1="31.6" y1="20.7" x2="33.1" y2="20.7" stroke="#000" stroke-width="1.3"/>
<line x1="31.6" y1="35.7" x2="34.6" y2="35.7" stroke="#000" stroke-width="1.3"/>
<line x1="31.6" y1="50.7" x2="33.1" y2="50.7" stroke="#000" stroke-width="1.3"/>
<line x1="31.6" y1="88.5" x2="33.1" y2="88.5" stroke="#000" stroke-width="1.3"/>
<line x1="31.6" y1="103.5" x2="34.6" y2="103.5" stroke="#000" stroke-width="1.3"/>
<line x1="31.6" y1="118.5" x2="33.1" y2="118.5" stroke="#000" stroke-width="1.3"/>
<line x1="31.6" y1="147.3" x2="33.1" y2="147.3" stroke="#000" stroke-width="1.3"/>
<line x1="31.6" y1="160.8" x2="33.1" y2="160.8" stroke="#000" stroke-width="1.3"/>
<line x1="31.6" y1="174.3" x2="34.6" y2="174.3" stroke="#000" stroke-width="1.3"/>
<line x1="31.6" y1="187.7" x2="33.1" y2="187.7" stroke="#000" stroke-width="1.3"/>
<line x1="31.6" y1="222.2" x2="33.1" y2="222.2" stroke="#000" stroke-width="1.3"/>
<line x1="31.6" y1="237.6" x2="34.6" y2="237.6" stroke="#000" stroke-width="1.3"/>
<line x1="31.6" y1="252.9" x2="33.1" y2="252.9" stroke="#000" stroke-width="1.3"/>
<line x1="31.6" y1="292.1" x2="33.1" y2="292.1" stroke="#000" stroke-width="1.3"/>
<line x1="31.6" y1="307.5" x2="34.6" y2="307.5" stroke="#000" stroke-width="1.3"/>
<line x1="31.6" y1="322.7" x2="33.1" y2="322.7" stroke="#000" stroke-width="1.3"/>
<path d="M31.55,349.55 V9.05 H536.0 V349.55" fill="none" stroke="#000" stroke-width="1.5"/>
<text x="36.8" y="22.0" font-family="Liberation Serif, serif" font-weight="bold" font-size="12.1" fill="#111">λ<tspan font-size="8" dy="2.2">c</tspan><tspan dy="-2.2">=1720.9 nm</tspan></text>
<text x="36.8" y="93.6" font-family="Liberation Serif, serif" font-weight="bold" font-size="12.1" fill="#111">λ<tspan font-size="8" dy="2.2">c</tspan><tspan dy="-2.2">=1735.6 nm</tspan></text>
<text x="36.8" y="162.4" font-family="Liberation Serif, serif" font-weight="bold" font-size="12.1" fill="#111">λ<tspan font-size="8" dy="2.2">c</tspan><tspan dy="-2.2">=1750.1 nm</tspan></text>
<text x="36.8" y="231.0" font-family="Liberation Serif, serif" font-weight="bold" font-size="12.1" fill="#111">λ<tspan font-size="8" dy="2.2">c</tspan><tspan dy="-2.2">=1766.7 nm</tspan></text>
<text x="36.8" y="300.0" font-family="Liberation Serif, serif" font-weight="bold" font-size="12.1" fill="#111">λ<tspan font-size="8" dy="2.2">c</tspan><tspan dy="-2.2">=1786.6 nm</tspan></text>
<text x="32.9" y="361.7" text-anchor="middle" font-family="Liberation Serif, serif" font-weight="bold" font-size="12.2" fill="#111">1700</text>
<text x="133.4" y="361.7" text-anchor="middle" font-family="Liberation Serif, serif" font-weight="bold" font-size="12.2" fill="#111">1720</text>
<text x="233.9" y="361.7" text-anchor="middle" font-family="Liberation Serif, serif" font-weight="bold" font-size="12.2" fill="#111">1740</text>
<text x="334.5" y="361.7" text-anchor="middle" font-family="Liberation Serif, serif" font-weight="bold" font-size="12.2" fill="#111">1760</text>
<text x="435.0" y="361.7" text-anchor="middle" font-family="Liberation Serif, serif" font-weight="bold" font-size="12.2" fill="#111">1780</text>
<text x="535.5" y="361.7" text-anchor="middle" font-family="Liberation Serif, serif" font-weight="bold" font-size="12.2" fill="#111">1800</text>
<text x="284.3" y="385" text-anchor="middle" font-family="Liberation Serif, serif" font-weight="bold" font-size="16" fill="#111">Wavelength (nm)</text>
<text transform="translate(17.0,179) rotate(-90)" text-anchor="middle" font-family="Liberation Serif, serif" font-weight="bold" font-size="15.5" fill="#111">Intensity (a.u.)</text>
</svg>
</body></html>
